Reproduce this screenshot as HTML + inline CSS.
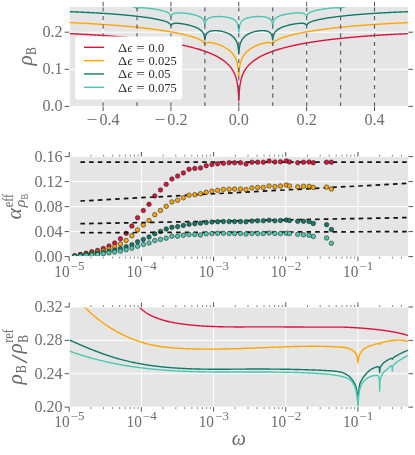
<!DOCTYPE html>
<html><head><meta charset="utf-8"><title>plot</title>
<style>html,body{margin:0;padding:0;background:#fff;}svg{display:block;}</style></head>
<body>
<svg width="415" height="455" viewBox="0 0 415 455" font-family='"Liberation Serif", serif'>
<rect width="415" height="455" fill="#fff"/>
<defs>
<clipPath id="c0"><rect x="69.2" y="6.4" width="339.2" height="100.0"/></clipPath>
<clipPath id="c1"><rect x="69.2" y="156.6" width="339.2" height="100.00000000000003"/></clipPath>
<clipPath id="c2"><rect x="69.2" y="307.0" width="339.2" height="100.10000000000002"/></clipPath>
</defs>
<rect x="69.2" y="6.4" width="339.2" height="100" fill="#E5E5E5"/>
<line x1="103.1" x2="103.1" y1="6.4" y2="106.4" stroke="#fff" stroke-width="1"/>
<line x1="170.95" x2="170.95" y1="6.4" y2="106.4" stroke="#fff" stroke-width="1"/>
<line x1="238.8" x2="238.8" y1="6.4" y2="106.4" stroke="#fff" stroke-width="1"/>
<line x1="306.65" x2="306.65" y1="6.4" y2="106.4" stroke="#fff" stroke-width="1"/>
<line x1="374.5" x2="374.5" y1="6.4" y2="106.4" stroke="#fff" stroke-width="1"/>
<line x1="69.2" x2="408.4" y1="69.3" y2="69.3" stroke="#fff" stroke-width="1"/>
<line x1="69.2" x2="408.4" y1="32.2" y2="32.2" stroke="#fff" stroke-width="1"/>
<g clip-path="url(#c0)">
<path d="M69.20,33.64 L70.01,33.67 L70.82,33.71 L71.63,33.74 L72.44,33.78 L73.25,33.82 L74.06,33.86 L74.87,33.89 L75.68,33.93 L76.49,33.97 L77.30,34.01 L78.11,34.05 L78.91,34.09 L79.72,34.13 L80.53,34.17 L81.34,34.22 L82.15,34.26 L82.96,34.30 L83.77,34.34 L84.58,34.39 L85.39,34.43 L86.20,34.47 L87.01,34.52 L87.82,34.56 L88.63,34.61 L89.44,34.66 L90.25,34.70 L91.06,34.75 L91.87,34.80 L92.68,34.85 L93.49,34.89 L94.30,34.94 L95.11,34.99 L95.92,35.04 L96.72,35.09 L97.53,35.14 L98.34,35.20 L99.15,35.25 L99.96,35.30 L100.77,35.35 L101.58,35.41 L102.39,35.46 L103.20,35.52 L104.01,35.57 L104.82,35.63 L105.63,35.68 L106.44,35.74 L107.25,35.80 L108.06,35.86 L108.87,35.92 L109.68,35.98 L110.49,36.04 L111.30,36.10 L112.11,36.16 L112.92,36.22 L113.73,36.28 L114.53,36.35 L115.34,36.41 L116.15,36.48 L116.96,36.54 L117.77,36.61 L118.58,36.67 L119.39,36.74 L120.20,36.81 L121.01,36.88 L121.82,36.95 L122.63,37.02 L123.44,37.09 L124.25,37.16 L125.06,37.23 L125.87,37.30 L126.68,37.38 L127.49,37.45 L128.30,37.53 L129.11,37.61 L129.92,37.68 L130.73,37.76 L131.54,37.84 L132.34,37.92 L133.15,38.00 L133.96,38.08 L134.77,38.16 L135.52,38.24 L135.57,38.25 L135.58,38.25 L135.62,38.25 L135.67,38.26 L135.72,38.26 L135.77,38.27 L135.82,38.27 L135.87,38.28 L135.92,38.28 L135.97,38.29 L136.02,38.29 L136.07,38.30 L136.12,38.30 L136.17,38.31 L136.22,38.31 L136.27,38.32 L136.32,38.32 L136.37,38.33 L136.39,38.33 L136.42,38.33 L136.47,38.34 L136.52,38.34 L136.57,38.35 L136.62,38.35 L136.67,38.36 L136.72,38.36 L136.77,38.37 L136.82,38.38 L136.87,38.38 L136.92,38.39 L136.97,38.39 L137.02,38.40 L137.07,38.40 L137.12,38.41 L137.17,38.41 L137.20,38.41 L137.22,38.42 L137.27,38.42 L137.32,38.43 L137.37,38.43 L137.42,38.44 L137.47,38.44 L137.52,38.45 L137.57,38.45 L137.62,38.46 L137.67,38.46 L137.72,38.47 L137.77,38.48 L137.82,38.48 L137.87,38.49 L137.92,38.49 L137.97,38.50 L138.01,38.50 L138.02,38.50 L138.07,38.51 L138.12,38.51 L138.17,38.52 L138.22,38.52 L138.27,38.53 L138.32,38.53 L138.37,38.54 L138.42,38.54 L138.47,38.55 L138.52,38.56 L138.82,38.59 L139.63,38.68 L140.44,38.76 L141.25,38.85 L142.06,38.94 L142.87,39.04 L143.68,39.13 L144.49,39.22 L145.30,39.32 L146.11,39.41 L146.92,39.51 L147.73,39.61 L148.54,39.71 L149.35,39.81 L150.15,39.91 L150.96,40.01 L151.77,40.12 L152.58,40.22 L153.39,40.33 L154.20,40.43 L155.01,40.54 L155.82,40.65 L156.63,40.76 L157.44,40.88 L158.25,40.99 L159.06,41.11 L159.87,41.22 L160.68,41.34 L161.49,41.46 L162.30,41.58 L163.11,41.71 L163.92,41.83 L164.73,41.96 L165.54,42.08 L166.35,42.21 L167.16,42.34 L167.96,42.48 L168.77,42.61 L169.45,42.73 L169.50,42.73 L169.55,42.74 L169.58,42.75 L169.60,42.75 L169.65,42.76 L169.70,42.77 L169.75,42.78 L169.80,42.78 L169.85,42.79 L169.90,42.80 L169.95,42.81 L170.00,42.82 L170.05,42.83 L170.10,42.84 L170.15,42.84 L170.20,42.85 L170.25,42.86 L170.30,42.87 L170.35,42.88 L170.39,42.89 L170.40,42.89 L170.45,42.90 L170.50,42.90 L170.55,42.91 L170.60,42.92 L170.65,42.93 L170.70,42.94 L170.75,42.95 L170.80,42.96 L170.85,42.96 L170.90,42.97 L170.95,42.98 L171.00,42.99 L171.05,43.00 L171.10,43.01 L171.15,43.02 L171.20,43.02 L171.20,43.03 L171.25,43.03 L171.30,43.04 L171.35,43.05 L171.40,43.06 L171.45,43.07 L171.50,43.08 L171.55,43.09 L171.60,43.09 L171.65,43.10 L171.70,43.11 L171.75,43.12 L171.80,43.13 L171.85,43.14 L171.90,43.15 L171.95,43.16 L172.00,43.16 L172.01,43.17 L172.05,43.17 L172.10,43.18 L172.15,43.19 L172.20,43.20 L172.25,43.21 L172.30,43.22 L172.35,43.23 L172.40,43.24 L172.45,43.24 L172.82,43.31 L173.63,43.46 L174.44,43.60 L175.25,43.75 L176.06,43.91 L176.87,44.06 L177.68,44.22 L178.49,44.37 L179.30,44.53 L180.11,44.70 L180.92,44.86 L181.73,45.03 L182.54,45.20 L183.35,45.38 L184.16,45.55 L184.97,45.73 L185.77,45.91 L186.58,46.10 L187.39,46.28 L188.20,46.47 L189.01,46.67 L189.82,46.86 L190.63,47.06 L191.44,47.27 L192.25,47.47 L193.06,47.69 L193.87,47.90 L194.68,48.12 L195.49,48.34 L196.30,48.57 L197.11,48.80 L197.92,49.04 L198.73,49.28 L199.54,49.52 L200.35,49.77 L201.16,50.03 L201.97,50.29 L202.78,50.55 L203.38,50.75 L203.43,50.77 L203.47,50.79 L203.53,50.80 L203.57,50.82 L203.58,50.82 L203.62,50.84 L203.68,50.86 L203.72,50.87 L203.78,50.89 L203.82,50.91 L203.88,50.92 L203.93,50.94 L203.97,50.96 L204.03,50.97 L204.07,50.99 L204.12,51.01 L204.18,51.03 L204.22,51.04 L204.28,51.06 L204.32,51.08 L204.38,51.10 L204.39,51.10 L204.43,51.11 L204.47,51.13 L204.53,51.15 L204.57,51.17 L204.62,51.18 L204.68,51.20 L204.72,51.22 L204.78,51.24 L204.82,51.25 L204.88,51.27 L204.93,51.29 L204.97,51.31 L205.03,51.32 L205.07,51.34 L205.12,51.36 L205.18,51.38 L205.20,51.39 L205.22,51.39 L205.28,51.41 L205.32,51.43 L205.38,51.45 L205.43,51.47 L205.47,51.48 L205.53,51.50 L205.57,51.52 L205.62,51.54 L205.68,51.56 L205.72,51.57 L205.78,51.59 L205.82,51.61 L205.88,51.63 L205.93,51.65 L205.97,51.66 L206.01,51.68 L206.03,51.68 L206.07,51.70 L206.12,51.72 L206.18,51.74 L206.22,51.75 L206.28,51.77 L206.32,51.79 L206.38,51.81 L206.82,51.98 L207.63,52.28 L208.44,52.59 L209.25,52.91 L210.06,53.24 L210.87,53.58 L211.68,53.93 L212.49,54.28 L213.30,54.65 L214.11,55.03 L214.92,55.42 L215.73,55.82 L216.54,56.23 L217.35,56.66 L218.16,57.11 L218.97,57.57 L219.78,58.04 L220.59,58.54 L221.39,59.05 L222.20,59.59 L223.01,60.15 L223.82,60.74 L224.63,61.36 L225.44,62.01 L226.25,62.69 L227.06,63.42 L227.87,64.19 L228.68,65.01 L229.49,65.90 L230.30,66.85 L231.11,67.89 L231.92,69.03 L232.73,70.29 L233.54,71.71 L234.35,73.34 L235.16,75.26 L235.97,77.60 L236.78,80.64 L237.30,83.25 L237.35,83.54 L237.40,83.84 L237.45,84.14 L237.50,84.46 L237.55,84.79 L237.59,85.04 L237.60,85.14 L237.65,85.49 L237.70,85.86 L237.75,86.24 L237.80,86.64 L237.85,87.06 L237.90,87.50 L237.95,87.96 L238.00,88.44 L238.05,88.95 L238.10,89.48 L238.15,90.05 L238.20,90.66 L238.25,91.31 L238.30,92.00 L238.35,92.75 L238.40,93.48 L238.40,93.56 L238.45,94.44 L238.50,95.39 L238.55,96.42 L238.60,97.52 L238.65,98.65 L238.70,99.72 L238.75,100.54 L238.80,100.85 L238.85,100.54 L238.90,99.72 L238.95,98.65 L239.00,97.52 L239.05,96.42 L239.10,95.39 L239.15,94.44 L239.20,93.56 L239.20,93.48 L239.25,92.75 L239.30,92.00 L239.35,91.31 L239.40,90.66 L239.45,90.05 L239.50,89.48 L239.55,88.95 L239.60,88.44 L239.65,87.96 L239.70,87.50 L239.75,87.06 L239.80,86.64 L239.85,86.24 L239.90,85.86 L239.95,85.49 L240.00,85.14 L240.01,85.04 L240.05,84.79 L240.10,84.46 L240.15,84.14 L240.20,83.84 L240.25,83.54 L240.30,83.25 L240.82,80.64 L241.63,77.60 L242.44,75.26 L243.25,73.34 L244.06,71.71 L244.87,70.29 L245.68,69.03 L246.49,67.89 L247.30,66.85 L248.11,65.90 L248.92,65.01 L249.73,64.19 L250.54,63.42 L251.35,62.69 L252.16,62.01 L252.97,61.36 L253.78,60.74 L254.59,60.15 L255.40,59.59 L256.21,59.05 L257.01,58.54 L257.82,58.04 L258.63,57.57 L259.44,57.11 L260.25,56.66 L261.06,56.23 L261.87,55.82 L262.68,55.42 L263.49,55.03 L264.30,54.65 L265.11,54.28 L265.92,53.93 L266.73,53.58 L267.54,53.24 L268.35,52.91 L269.16,52.59 L269.97,52.28 L270.78,51.98 L271.23,51.81 L271.28,51.79 L271.33,51.77 L271.38,51.75 L271.43,51.74 L271.48,51.72 L271.53,51.70 L271.58,51.68 L271.59,51.68 L271.62,51.66 L271.68,51.65 L271.73,51.63 L271.78,51.61 L271.83,51.59 L271.88,51.57 L271.93,51.56 L271.98,51.54 L272.03,51.52 L272.08,51.50 L272.12,51.48 L272.18,51.47 L272.23,51.45 L272.28,51.43 L272.33,51.41 L272.38,51.39 L272.40,51.39 L272.43,51.38 L272.48,51.36 L272.53,51.34 L272.58,51.32 L272.62,51.31 L272.68,51.29 L272.73,51.27 L272.78,51.25 L272.83,51.24 L272.88,51.22 L272.93,51.20 L272.98,51.18 L273.03,51.17 L273.08,51.15 L273.12,51.13 L273.18,51.11 L273.21,51.10 L273.23,51.10 L273.28,51.08 L273.33,51.06 L273.38,51.04 L273.43,51.03 L273.48,51.01 L273.53,50.99 L273.58,50.97 L273.62,50.96 L273.68,50.94 L273.73,50.92 L273.78,50.91 L273.83,50.89 L273.88,50.87 L273.93,50.86 L273.98,50.84 L274.02,50.82 L274.03,50.82 L274.08,50.80 L274.12,50.79 L274.18,50.77 L274.23,50.75 L274.82,50.55 L275.63,50.29 L276.44,50.03 L277.25,49.77 L278.06,49.52 L278.87,49.28 L279.68,49.04 L280.49,48.80 L281.30,48.57 L282.11,48.34 L282.92,48.12 L283.73,47.90 L284.54,47.69 L285.35,47.47 L286.16,47.27 L286.97,47.06 L287.78,46.86 L288.59,46.67 L289.40,46.47 L290.21,46.28 L291.02,46.10 L291.83,45.91 L292.63,45.73 L293.44,45.55 L294.25,45.38 L295.06,45.20 L295.87,45.03 L296.68,44.86 L297.49,44.70 L298.30,44.53 L299.11,44.37 L299.92,44.22 L300.73,44.06 L301.54,43.91 L302.35,43.75 L303.16,43.60 L303.97,43.46 L304.78,43.31 L305.15,43.24 L305.20,43.24 L305.25,43.23 L305.30,43.22 L305.35,43.21 L305.40,43.20 L305.45,43.19 L305.50,43.18 L305.55,43.17 L305.59,43.17 L305.60,43.16 L305.65,43.16 L305.70,43.15 L305.75,43.14 L305.80,43.13 L305.85,43.12 L305.90,43.11 L305.95,43.10 L306.00,43.09 L306.05,43.09 L306.10,43.08 L306.15,43.07 L306.20,43.06 L306.25,43.05 L306.30,43.04 L306.35,43.03 L306.40,43.03 L306.40,43.02 L306.45,43.02 L306.50,43.01 L306.55,43.00 L306.60,42.99 L306.65,42.98 L306.70,42.97 L306.75,42.96 L306.80,42.96 L306.85,42.95 L306.90,42.94 L306.95,42.93 L307.00,42.92 L307.05,42.91 L307.10,42.90 L307.15,42.90 L307.20,42.89 L307.21,42.89 L307.25,42.88 L307.30,42.87 L307.35,42.86 L307.40,42.85 L307.45,42.84 L307.50,42.84 L307.55,42.83 L307.60,42.82 L307.65,42.81 L307.70,42.80 L307.75,42.79 L307.80,42.78 L307.85,42.78 L307.90,42.77 L307.95,42.76 L308.00,42.75 L308.02,42.75 L308.05,42.74 L308.10,42.73 L308.15,42.73 L308.83,42.61 L309.64,42.48 L310.44,42.34 L311.25,42.21 L312.06,42.08 L312.87,41.96 L313.68,41.83 L314.49,41.71 L315.30,41.58 L316.11,41.46 L316.92,41.34 L317.73,41.22 L318.54,41.11 L319.35,40.99 L320.16,40.88 L320.97,40.76 L321.78,40.65 L322.59,40.54 L323.40,40.43 L324.21,40.33 L325.02,40.22 L325.83,40.12 L326.64,40.01 L327.45,39.91 L328.25,39.81 L329.06,39.71 L329.87,39.61 L330.68,39.51 L331.49,39.41 L332.30,39.32 L333.11,39.22 L333.92,39.13 L334.73,39.04 L335.54,38.94 L336.35,38.85 L337.16,38.76 L337.97,38.68 L338.78,38.59 L339.08,38.56 L339.13,38.55 L339.18,38.54 L339.23,38.54 L339.28,38.53 L339.33,38.53 L339.38,38.52 L339.43,38.52 L339.48,38.51 L339.53,38.51 L339.58,38.50 L339.59,38.50 L339.63,38.50 L339.68,38.49 L339.73,38.49 L339.78,38.48 L339.83,38.48 L339.88,38.47 L339.93,38.46 L339.98,38.46 L340.03,38.45 L340.08,38.45 L340.13,38.44 L340.18,38.44 L340.23,38.43 L340.28,38.43 L340.33,38.42 L340.38,38.42 L340.40,38.41 L340.43,38.41 L340.48,38.41 L340.53,38.40 L340.58,38.40 L340.63,38.39 L340.68,38.39 L340.73,38.38 L340.78,38.38 L340.83,38.37 L340.88,38.36 L340.93,38.36 L340.98,38.35 L341.03,38.35 L341.08,38.34 L341.13,38.34 L341.18,38.33 L341.21,38.33 L341.23,38.33 L341.28,38.32 L341.33,38.32 L341.38,38.31 L341.43,38.31 L341.48,38.30 L341.53,38.30 L341.58,38.29 L341.63,38.29 L341.68,38.28 L341.73,38.28 L341.78,38.27 L341.83,38.27 L341.88,38.26 L341.93,38.26 L341.98,38.25 L342.02,38.25 L342.03,38.25 L342.08,38.24 L342.83,38.16 L343.64,38.08 L344.45,38.00 L345.26,37.92 L346.06,37.84 L346.87,37.76 L347.68,37.68 L348.49,37.61 L349.30,37.53 L350.11,37.45 L350.92,37.38 L351.73,37.30 L352.54,37.23 L353.35,37.16 L354.16,37.09 L354.97,37.02 L355.78,36.95 L356.59,36.88 L357.40,36.81 L358.21,36.74 L359.02,36.67 L359.83,36.61 L360.64,36.54 L361.45,36.48 L362.26,36.41 L363.07,36.35 L363.87,36.28 L364.68,36.22 L365.49,36.16 L366.30,36.10 L367.11,36.04 L367.92,35.98 L368.73,35.92 L369.54,35.86 L370.35,35.80 L371.16,35.74 L371.97,35.68 L372.78,35.63 L373.59,35.57 L374.40,35.52 L375.21,35.46 L376.02,35.41 L376.83,35.35 L377.64,35.30 L378.45,35.25 L379.26,35.20 L380.07,35.14 L380.88,35.09 L381.68,35.04 L382.49,34.99 L383.30,34.94 L384.11,34.89 L384.92,34.85 L385.73,34.80 L386.54,34.75 L387.35,34.70 L388.16,34.66 L388.97,34.61 L389.78,34.56 L390.59,34.52 L391.40,34.47 L392.21,34.43 L393.02,34.39 L393.83,34.34 L394.64,34.30 L395.45,34.26 L396.26,34.22 L397.07,34.17 L397.88,34.13 L398.69,34.09 L399.49,34.05 L400.30,34.01 L401.11,33.97 L401.92,33.93 L402.73,33.89 L403.54,33.86 L404.35,33.82 L405.16,33.78 L405.97,33.74 L406.78,33.71 L407.59,33.67 L408.40,33.64" fill="none" stroke="#DC143C" stroke-width="1.4" stroke-linejoin="round"/>
<path d="M69.20,22.59 L70.01,22.63 L70.82,22.66 L71.63,22.70 L72.44,22.74 L73.25,22.77 L74.06,22.81 L74.87,22.85 L75.68,22.89 L76.49,22.93 L77.30,22.97 L78.11,23.00 L78.91,23.04 L79.72,23.09 L80.53,23.13 L81.34,23.17 L82.15,23.21 L82.96,23.25 L83.77,23.29 L84.58,23.34 L85.39,23.38 L86.20,23.42 L87.01,23.47 L87.82,23.51 L88.63,23.56 L89.44,23.60 L90.25,23.65 L91.06,23.69 L91.87,23.74 L92.68,23.79 L93.49,23.84 L94.30,23.89 L95.11,23.93 L95.92,23.98 L96.72,24.03 L97.53,24.08 L98.34,24.13 L99.15,24.19 L99.96,24.24 L100.77,24.29 L101.58,24.34 L102.39,24.40 L103.20,24.45 L104.01,24.50 L104.82,24.56 L105.63,24.62 L106.44,24.67 L107.25,24.73 L108.06,24.79 L108.87,24.84 L109.68,24.90 L110.49,24.96 L111.30,25.02 L112.11,25.08 L112.92,25.14 L113.73,25.20 L114.53,25.27 L115.34,25.33 L116.15,25.39 L116.96,25.46 L117.77,25.52 L118.58,25.59 L119.39,25.65 L120.20,25.72 L121.01,25.79 L121.82,25.85 L122.63,25.92 L123.44,25.99 L124.25,26.06 L125.06,26.13 L125.87,26.21 L126.68,26.28 L127.49,26.35 L128.30,26.43 L129.11,26.50 L129.92,26.58 L130.73,26.65 L131.54,26.73 L132.34,26.81 L133.15,26.89 L133.96,26.97 L134.77,27.05 L135.52,27.13 L135.57,27.13 L135.58,27.13 L135.62,27.14 L135.67,27.14 L135.72,27.15 L135.77,27.15 L135.82,27.16 L135.87,27.16 L135.92,27.17 L135.97,27.17 L136.02,27.18 L136.07,27.18 L136.12,27.19 L136.17,27.19 L136.22,27.20 L136.27,27.20 L136.32,27.21 L136.37,27.21 L136.39,27.22 L136.42,27.22 L136.47,27.22 L136.52,27.23 L136.57,27.23 L136.62,27.24 L136.67,27.24 L136.72,27.25 L136.77,27.25 L136.82,27.26 L136.87,27.27 L136.92,27.27 L136.97,27.28 L137.02,27.28 L137.07,27.29 L137.12,27.29 L137.17,27.30 L137.20,27.30 L137.22,27.30 L137.27,27.31 L137.32,27.31 L137.37,27.32 L137.42,27.32 L137.47,27.33 L137.52,27.33 L137.57,27.34 L137.62,27.34 L137.67,27.35 L137.72,27.35 L137.77,27.36 L137.82,27.36 L137.87,27.37 L137.92,27.37 L137.97,27.38 L138.01,27.38 L138.02,27.39 L138.07,27.39 L138.12,27.40 L138.17,27.40 L138.22,27.41 L138.27,27.41 L138.32,27.42 L138.37,27.42 L138.42,27.43 L138.47,27.43 L138.52,27.44 L138.82,27.47 L139.63,27.56 L140.44,27.64 L141.25,27.73 L142.06,27.82 L142.87,27.91 L143.68,28.00 L144.49,28.10 L145.30,28.19 L146.11,28.29 L146.92,28.38 L147.73,28.48 L148.54,28.58 L149.35,28.68 L150.15,28.78 L150.96,28.88 L151.77,28.98 L152.58,29.09 L153.39,29.19 L154.20,29.30 L155.01,29.41 L155.82,29.52 L156.63,29.63 L157.44,29.74 L158.25,29.86 L159.06,29.97 L159.87,30.09 L160.68,30.21 L161.49,30.33 L162.30,30.45 L163.11,30.58 L163.92,30.70 L164.73,30.83 L165.54,30.96 L166.35,31.09 L167.16,31.22 L167.96,31.36 L168.77,31.50 L169.45,31.61 L169.50,31.62 L169.55,31.63 L169.58,31.64 L169.60,31.64 L169.65,31.65 L169.70,31.66 L169.75,31.66 L169.80,31.67 L169.85,31.68 L169.90,31.69 L169.95,31.70 L170.00,31.71 L170.05,31.72 L170.10,31.73 L170.15,31.73 L170.20,31.74 L170.25,31.75 L170.30,31.76 L170.35,31.77 L170.39,31.78 L170.40,31.78 L170.45,31.79 L170.50,31.80 L170.55,31.80 L170.60,31.81 L170.65,31.82 L170.70,31.83 L170.75,31.84 L170.80,31.85 L170.85,31.86 L170.90,31.87 L170.95,31.88 L171.00,31.88 L171.05,31.89 L171.10,31.90 L171.15,31.91 L171.20,31.92 L171.20,31.92 L171.25,31.93 L171.30,31.94 L171.35,31.95 L171.40,31.96 L171.45,31.96 L171.50,31.97 L171.55,31.98 L171.60,31.99 L171.65,32.00 L171.70,32.01 L171.75,32.02 L171.80,32.03 L171.85,32.04 L171.90,32.05 L171.95,32.05 L172.00,32.06 L172.01,32.07 L172.05,32.07 L172.10,32.08 L172.15,32.09 L172.20,32.10 L172.25,32.11 L172.30,32.12 L172.35,32.13 L172.40,32.14 L172.45,32.15 L172.82,32.21 L173.63,32.36 L174.44,32.52 L175.25,32.67 L176.06,32.83 L176.87,32.99 L177.68,33.16 L178.49,33.32 L179.30,33.49 L180.11,33.67 L180.92,33.84 L181.73,34.02 L182.54,34.21 L183.35,34.39 L184.16,34.58 L184.97,34.78 L185.77,34.98 L186.58,35.18 L187.39,35.39 L188.20,35.61 L189.01,35.83 L189.82,36.05 L190.63,36.29 L191.44,36.52 L192.25,36.77 L193.06,37.03 L193.87,37.29 L194.68,37.56 L195.49,37.85 L196.30,38.15 L197.11,38.46 L197.92,38.79 L198.73,39.14 L199.54,39.52 L200.35,39.93 L201.16,40.38 L201.97,40.90 L202.78,41.53 L203.38,42.11 L203.43,42.17 L203.47,42.23 L203.53,42.29 L203.57,42.35 L203.58,42.36 L203.62,42.41 L203.68,42.48 L203.72,42.54 L203.78,42.61 L203.82,42.68 L203.88,42.76 L203.93,42.83 L203.97,42.91 L204.03,43.00 L204.07,43.09 L204.12,43.18 L204.18,43.27 L204.22,43.38 L204.28,43.49 L204.32,43.60 L204.38,43.72 L204.39,43.77 L204.43,43.86 L204.47,44.00 L204.53,44.15 L204.57,44.32 L204.62,44.50 L204.68,44.70 L204.72,44.90 L204.78,45.09 L204.82,45.24 L204.88,45.31 L204.93,45.27 L204.97,45.15 L205.03,44.98 L205.07,44.81 L205.12,44.64 L205.18,44.49 L205.20,44.41 L205.22,44.35 L205.28,44.23 L205.32,44.11 L205.38,44.01 L205.43,43.91 L205.47,43.83 L205.53,43.75 L205.57,43.67 L205.62,43.60 L205.68,43.54 L205.72,43.48 L205.78,43.42 L205.82,43.37 L205.88,43.32 L205.93,43.28 L205.97,43.23 L206.01,43.20 L206.03,43.19 L206.07,43.16 L206.12,43.12 L206.18,43.09 L206.22,43.05 L206.28,43.02 L206.32,42.99 L206.38,42.97 L206.82,42.77 L207.63,42.58 L208.44,42.50 L209.25,42.50 L210.06,42.55 L210.87,42.64 L211.68,42.75 L212.49,42.90 L213.30,43.06 L214.11,43.25 L214.92,43.45 L215.73,43.67 L216.54,43.91 L217.35,44.17 L218.16,44.44 L218.97,44.73 L219.78,45.04 L220.59,45.37 L221.39,45.72 L222.20,46.08 L223.01,46.47 L223.82,46.88 L224.63,47.31 L225.44,47.77 L226.25,48.26 L227.06,48.78 L227.87,49.34 L228.68,49.94 L229.49,50.59 L230.30,51.29 L231.11,52.06 L231.92,52.90 L232.73,53.84 L233.54,54.90 L234.35,56.12 L235.16,57.55 L235.97,59.30 L236.78,61.57 L237.30,63.52 L237.35,63.74 L237.40,63.96 L237.45,64.19 L237.50,64.43 L237.55,64.68 L237.59,64.86 L237.60,64.93 L237.65,65.20 L237.70,65.47 L237.75,65.76 L237.80,66.06 L237.85,66.37 L237.90,66.69 L237.95,67.03 L238.00,67.39 L238.05,67.77 L238.10,68.17 L238.15,68.59 L238.20,69.04 L238.25,69.53 L238.30,70.04 L238.35,70.60 L238.40,71.14 L238.40,71.20 L238.45,71.85 L238.50,72.55 L238.55,73.32 L238.60,74.13 L238.65,74.97 L238.70,75.76 L238.75,76.36 L238.80,76.59 L238.85,76.36 L238.90,75.76 L238.95,74.97 L239.00,74.13 L239.05,73.32 L239.10,72.55 L239.15,71.85 L239.20,71.20 L239.20,71.14 L239.25,70.60 L239.30,70.04 L239.35,69.53 L239.40,69.04 L239.45,68.59 L239.50,68.17 L239.55,67.77 L239.60,67.39 L239.65,67.03 L239.70,66.69 L239.75,66.37 L239.80,66.06 L239.85,65.76 L239.90,65.47 L239.95,65.20 L240.00,64.93 L240.01,64.86 L240.05,64.68 L240.10,64.43 L240.15,64.19 L240.20,63.96 L240.25,63.74 L240.30,63.52 L240.82,61.57 L241.63,59.30 L242.44,57.55 L243.25,56.12 L244.06,54.90 L244.87,53.84 L245.68,52.90 L246.49,52.06 L247.30,51.29 L248.11,50.59 L248.92,49.94 L249.73,49.34 L250.54,48.78 L251.35,48.26 L252.16,47.77 L252.97,47.31 L253.78,46.88 L254.59,46.47 L255.40,46.08 L256.21,45.72 L257.01,45.37 L257.82,45.04 L258.63,44.73 L259.44,44.44 L260.25,44.17 L261.06,43.91 L261.87,43.67 L262.68,43.45 L263.49,43.25 L264.30,43.06 L265.11,42.90 L265.92,42.75 L266.73,42.64 L267.54,42.55 L268.35,42.50 L269.16,42.50 L269.97,42.58 L270.78,42.77 L271.23,42.97 L271.28,42.99 L271.33,43.02 L271.38,43.05 L271.43,43.09 L271.48,43.12 L271.53,43.16 L271.58,43.19 L271.59,43.20 L271.62,43.23 L271.68,43.28 L271.73,43.32 L271.78,43.37 L271.83,43.42 L271.88,43.48 L271.93,43.54 L271.98,43.60 L272.03,43.67 L272.08,43.75 L272.12,43.83 L272.18,43.91 L272.23,44.01 L272.28,44.11 L272.33,44.23 L272.38,44.35 L272.40,44.41 L272.43,44.49 L272.48,44.64 L272.53,44.81 L272.58,44.98 L272.62,45.15 L272.68,45.27 L272.73,45.31 L272.78,45.24 L272.83,45.09 L272.88,44.90 L272.93,44.70 L272.98,44.50 L273.03,44.32 L273.08,44.15 L273.12,44.00 L273.18,43.86 L273.21,43.77 L273.23,43.72 L273.28,43.60 L273.33,43.49 L273.38,43.38 L273.43,43.27 L273.48,43.18 L273.53,43.09 L273.58,43.00 L273.62,42.91 L273.68,42.83 L273.73,42.76 L273.78,42.68 L273.83,42.61 L273.88,42.54 L273.93,42.48 L273.98,42.41 L274.02,42.36 L274.03,42.35 L274.08,42.29 L274.12,42.23 L274.18,42.17 L274.23,42.11 L274.82,41.53 L275.63,40.90 L276.44,40.38 L277.25,39.93 L278.06,39.52 L278.87,39.14 L279.68,38.79 L280.49,38.46 L281.30,38.15 L282.11,37.85 L282.92,37.56 L283.73,37.29 L284.54,37.03 L285.35,36.77 L286.16,36.52 L286.97,36.29 L287.78,36.05 L288.59,35.83 L289.40,35.61 L290.21,35.39 L291.02,35.18 L291.83,34.98 L292.63,34.78 L293.44,34.58 L294.25,34.39 L295.06,34.21 L295.87,34.02 L296.68,33.84 L297.49,33.67 L298.30,33.49 L299.11,33.32 L299.92,33.16 L300.73,32.99 L301.54,32.83 L302.35,32.67 L303.16,32.52 L303.97,32.36 L304.78,32.21 L305.15,32.15 L305.20,32.14 L305.25,32.13 L305.30,32.12 L305.35,32.11 L305.40,32.10 L305.45,32.09 L305.50,32.08 L305.55,32.07 L305.59,32.07 L305.60,32.06 L305.65,32.05 L305.70,32.05 L305.75,32.04 L305.80,32.03 L305.85,32.02 L305.90,32.01 L305.95,32.00 L306.00,31.99 L306.05,31.98 L306.10,31.97 L306.15,31.96 L306.20,31.96 L306.25,31.95 L306.30,31.94 L306.35,31.93 L306.40,31.92 L306.40,31.92 L306.45,31.91 L306.50,31.90 L306.55,31.89 L306.60,31.88 L306.65,31.88 L306.70,31.87 L306.75,31.86 L306.80,31.85 L306.85,31.84 L306.90,31.83 L306.95,31.82 L307.00,31.81 L307.05,31.80 L307.10,31.80 L307.15,31.79 L307.20,31.78 L307.21,31.78 L307.25,31.77 L307.30,31.76 L307.35,31.75 L307.40,31.74 L307.45,31.73 L307.50,31.73 L307.55,31.72 L307.60,31.71 L307.65,31.70 L307.70,31.69 L307.75,31.68 L307.80,31.67 L307.85,31.66 L307.90,31.66 L307.95,31.65 L308.00,31.64 L308.02,31.64 L308.05,31.63 L308.10,31.62 L308.15,31.61 L308.83,31.50 L309.64,31.36 L310.44,31.22 L311.25,31.09 L312.06,30.96 L312.87,30.83 L313.68,30.70 L314.49,30.58 L315.30,30.45 L316.11,30.33 L316.92,30.21 L317.73,30.09 L318.54,29.97 L319.35,29.86 L320.16,29.74 L320.97,29.63 L321.78,29.52 L322.59,29.41 L323.40,29.30 L324.21,29.19 L325.02,29.09 L325.83,28.98 L326.64,28.88 L327.45,28.78 L328.25,28.68 L329.06,28.58 L329.87,28.48 L330.68,28.38 L331.49,28.29 L332.30,28.19 L333.11,28.10 L333.92,28.00 L334.73,27.91 L335.54,27.82 L336.35,27.73 L337.16,27.64 L337.97,27.56 L338.78,27.47 L339.08,27.44 L339.13,27.43 L339.18,27.43 L339.23,27.42 L339.28,27.42 L339.33,27.41 L339.38,27.41 L339.43,27.40 L339.48,27.40 L339.53,27.39 L339.58,27.39 L339.59,27.38 L339.63,27.38 L339.68,27.37 L339.73,27.37 L339.78,27.36 L339.83,27.36 L339.88,27.35 L339.93,27.35 L339.98,27.34 L340.03,27.34 L340.08,27.33 L340.13,27.33 L340.18,27.32 L340.23,27.32 L340.28,27.31 L340.33,27.31 L340.38,27.30 L340.40,27.30 L340.43,27.30 L340.48,27.29 L340.53,27.29 L340.58,27.28 L340.63,27.28 L340.68,27.27 L340.73,27.27 L340.78,27.26 L340.83,27.25 L340.88,27.25 L340.93,27.24 L340.98,27.24 L341.03,27.23 L341.08,27.23 L341.13,27.22 L341.18,27.22 L341.21,27.22 L341.23,27.21 L341.28,27.21 L341.33,27.20 L341.38,27.20 L341.43,27.19 L341.48,27.19 L341.53,27.18 L341.58,27.18 L341.63,27.17 L341.68,27.17 L341.73,27.16 L341.78,27.16 L341.83,27.15 L341.88,27.15 L341.93,27.14 L341.98,27.14 L342.02,27.13 L342.03,27.13 L342.08,27.13 L342.83,27.05 L343.64,26.97 L344.45,26.89 L345.26,26.81 L346.06,26.73 L346.87,26.65 L347.68,26.58 L348.49,26.50 L349.30,26.43 L350.11,26.35 L350.92,26.28 L351.73,26.21 L352.54,26.13 L353.35,26.06 L354.16,25.99 L354.97,25.92 L355.78,25.85 L356.59,25.79 L357.40,25.72 L358.21,25.65 L359.02,25.59 L359.83,25.52 L360.64,25.46 L361.45,25.39 L362.26,25.33 L363.07,25.27 L363.87,25.20 L364.68,25.14 L365.49,25.08 L366.30,25.02 L367.11,24.96 L367.92,24.90 L368.73,24.84 L369.54,24.79 L370.35,24.73 L371.16,24.67 L371.97,24.62 L372.78,24.56 L373.59,24.50 L374.40,24.45 L375.21,24.40 L376.02,24.34 L376.83,24.29 L377.64,24.24 L378.45,24.19 L379.26,24.13 L380.07,24.08 L380.88,24.03 L381.68,23.98 L382.49,23.93 L383.30,23.89 L384.11,23.84 L384.92,23.79 L385.73,23.74 L386.54,23.69 L387.35,23.65 L388.16,23.60 L388.97,23.56 L389.78,23.51 L390.59,23.47 L391.40,23.42 L392.21,23.38 L393.02,23.34 L393.83,23.29 L394.64,23.25 L395.45,23.21 L396.26,23.17 L397.07,23.13 L397.88,23.09 L398.69,23.04 L399.49,23.00 L400.30,22.97 L401.11,22.93 L401.92,22.89 L402.73,22.85 L403.54,22.81 L404.35,22.77 L405.16,22.74 L405.97,22.70 L406.78,22.66 L407.59,22.63 L408.40,22.59" fill="none" stroke="#FFA500" stroke-width="1.4" stroke-linejoin="round"/>
<path d="M69.20,11.70 L70.01,11.73 L70.82,11.76 L71.63,11.79 L72.44,11.82 L73.25,11.85 L74.06,11.88 L74.87,11.92 L75.68,11.95 L76.49,11.98 L77.30,12.01 L78.11,12.05 L78.91,12.08 L79.72,12.12 L80.53,12.15 L81.34,12.19 L82.15,12.22 L82.96,12.26 L83.77,12.30 L84.58,12.34 L85.39,12.37 L86.20,12.41 L87.01,12.45 L87.82,12.49 L88.63,12.53 L89.44,12.57 L90.25,12.61 L91.06,12.66 L91.87,12.70 L92.68,12.74 L93.49,12.78 L94.30,12.83 L95.11,12.87 L95.92,12.92 L96.72,12.96 L97.53,13.01 L98.34,13.06 L99.15,13.11 L99.96,13.15 L100.77,13.20 L101.58,13.25 L102.39,13.30 L103.20,13.35 L104.01,13.41 L104.82,13.46 L105.63,13.51 L106.44,13.57 L107.25,13.62 L108.06,13.67 L108.87,13.73 L109.68,13.79 L110.49,13.85 L111.30,13.90 L112.11,13.96 L112.92,14.02 L113.73,14.08 L114.53,14.15 L115.34,14.21 L116.15,14.27 L116.96,14.34 L117.77,14.40 L118.58,14.47 L119.39,14.53 L120.20,14.60 L121.01,14.67 L121.82,14.74 L122.63,14.81 L123.44,14.88 L124.25,14.96 L125.06,15.03 L125.87,15.11 L126.68,15.18 L127.49,15.26 L128.30,15.34 L129.11,15.42 L129.92,15.50 L130.73,15.58 L131.54,15.67 L132.34,15.75 L133.15,15.84 L133.96,15.93 L134.77,16.02 L135.52,16.10 L135.57,16.10 L135.58,16.11 L135.62,16.11 L135.67,16.12 L135.72,16.12 L135.77,16.13 L135.82,16.13 L135.87,16.14 L135.92,16.14 L135.97,16.15 L136.02,16.16 L136.07,16.16 L136.12,16.17 L136.17,16.17 L136.22,16.18 L136.27,16.18 L136.32,16.19 L136.37,16.20 L136.39,16.20 L136.42,16.20 L136.47,16.21 L136.52,16.21 L136.57,16.22 L136.62,16.22 L136.67,16.23 L136.72,16.24 L136.77,16.24 L136.82,16.25 L136.87,16.25 L136.92,16.26 L136.97,16.27 L137.02,16.27 L137.07,16.28 L137.12,16.28 L137.17,16.29 L137.20,16.29 L137.22,16.29 L137.27,16.30 L137.32,16.31 L137.37,16.31 L137.42,16.32 L137.47,16.32 L137.52,16.33 L137.57,16.34 L137.62,16.34 L137.67,16.35 L137.72,16.35 L137.77,16.36 L137.82,16.37 L137.87,16.37 L137.92,16.38 L137.97,16.38 L138.01,16.39 L138.02,16.39 L138.07,16.39 L138.12,16.40 L138.17,16.41 L138.22,16.41 L138.27,16.42 L138.32,16.42 L138.37,16.43 L138.42,16.44 L138.47,16.44 L138.52,16.45 L138.82,16.48 L139.63,16.58 L140.44,16.68 L141.25,16.79 L142.06,16.89 L142.87,17.00 L143.68,17.10 L144.49,17.21 L145.30,17.33 L146.11,17.44 L146.92,17.56 L147.73,17.68 L148.54,17.80 L149.35,17.92 L150.15,18.05 L150.96,18.18 L151.77,18.31 L152.58,18.45 L153.39,18.59 L154.20,18.74 L155.01,18.88 L155.82,19.04 L156.63,19.19 L157.44,19.35 L158.25,19.52 L159.06,19.69 L159.87,19.87 L160.68,20.06 L161.49,20.26 L162.30,20.46 L163.11,20.68 L163.92,20.90 L164.73,21.15 L165.54,21.41 L166.35,21.70 L167.16,22.03 L167.96,22.40 L168.77,22.86 L169.45,23.35 L169.50,23.39 L169.55,23.43 L169.58,23.46 L169.60,23.48 L169.65,23.53 L169.70,23.57 L169.75,23.62 L169.80,23.68 L169.85,23.73 L169.90,23.78 L169.95,23.84 L170.00,23.90 L170.05,23.96 L170.10,24.03 L170.15,24.10 L170.20,24.17 L170.25,24.24 L170.30,24.32 L170.35,24.41 L170.39,24.49 L170.40,24.50 L170.45,24.60 L170.50,24.70 L170.55,24.81 L170.60,24.94 L170.65,25.07 L170.70,25.21 L170.75,25.37 L170.80,25.53 L170.85,25.68 L170.90,25.80 L170.95,25.85 L171.00,25.82 L171.05,25.72 L171.10,25.58 L171.15,25.44 L171.20,25.30 L171.20,25.29 L171.25,25.17 L171.30,25.06 L171.35,24.95 L171.40,24.86 L171.45,24.77 L171.50,24.69 L171.55,24.62 L171.60,24.55 L171.65,24.48 L171.70,24.43 L171.75,24.37 L171.80,24.32 L171.85,24.27 L171.90,24.23 L171.95,24.18 L172.00,24.14 L172.01,24.13 L172.05,24.11 L172.10,24.07 L172.15,24.04 L172.20,24.00 L172.25,23.97 L172.30,23.94 L172.35,23.92 L172.40,23.89 L172.45,23.86 L172.82,23.71 L173.63,23.48 L174.44,23.36 L175.25,23.30 L176.06,23.29 L176.87,23.30 L177.68,23.33 L178.49,23.38 L179.30,23.45 L180.11,23.53 L180.92,23.63 L181.73,23.73 L182.54,23.85 L183.35,23.98 L184.16,24.12 L184.97,24.27 L185.77,24.42 L186.58,24.59 L187.39,24.77 L188.20,24.96 L189.01,25.16 L189.82,25.37 L190.63,25.59 L191.44,25.83 L192.25,26.08 L193.06,26.35 L193.87,26.63 L194.68,26.94 L195.49,27.26 L196.30,27.61 L197.11,27.99 L197.92,28.40 L198.73,28.86 L199.54,29.36 L200.35,29.94 L201.16,30.61 L201.97,31.43 L202.78,32.47 L203.38,33.51 L203.43,33.61 L203.47,33.71 L203.53,33.82 L203.57,33.94 L203.58,33.96 L203.62,34.05 L203.68,34.18 L203.72,34.30 L203.78,34.43 L203.82,34.57 L203.88,34.71 L203.93,34.86 L203.97,35.01 L204.03,35.18 L204.07,35.35 L204.12,35.53 L204.18,35.73 L204.22,35.93 L204.28,36.15 L204.32,36.38 L204.38,36.64 L204.39,36.74 L204.43,36.91 L204.47,37.20 L204.53,37.52 L204.57,37.87 L204.62,38.25 L204.68,38.66 L204.72,39.08 L204.78,39.48 L204.82,39.80 L204.88,39.92 L204.93,39.81 L204.97,39.52 L205.03,39.13 L205.07,38.73 L205.12,38.34 L205.18,37.98 L205.20,37.78 L205.22,37.64 L205.28,37.34 L205.32,37.06 L205.38,36.81 L205.43,36.58 L205.47,36.36 L205.53,36.16 L205.57,35.97 L205.62,35.80 L205.68,35.63 L205.72,35.48 L205.78,35.33 L205.82,35.19 L205.88,35.06 L205.93,34.94 L205.97,34.82 L206.01,34.73 L206.03,34.70 L206.07,34.59 L206.12,34.49 L206.18,34.39 L206.22,34.30 L206.28,34.20 L206.32,34.12 L206.38,34.03 L206.82,33.39 L207.63,32.57 L208.44,32.01 L209.25,31.60 L210.06,31.29 L210.87,31.06 L211.68,30.89 L212.49,30.77 L213.30,30.68 L214.11,30.63 L214.92,30.60 L215.73,30.61 L216.54,30.63 L217.35,30.69 L218.16,30.76 L218.97,30.85 L219.78,30.96 L220.59,31.10 L221.39,31.25 L222.20,31.43 L223.01,31.62 L223.82,31.84 L224.63,32.08 L225.44,32.35 L226.25,32.64 L227.06,32.96 L227.87,33.32 L228.68,33.71 L229.49,34.14 L230.30,34.61 L231.11,35.14 L231.92,35.74 L232.73,36.41 L233.54,37.17 L234.35,38.07 L235.16,39.13 L235.97,40.44 L236.78,42.16 L237.30,43.63 L237.35,43.79 L237.40,43.96 L237.45,44.14 L237.50,44.32 L237.55,44.50 L237.59,44.64 L237.60,44.69 L237.65,44.89 L237.70,45.10 L237.75,45.31 L237.80,45.54 L237.85,45.77 L237.90,46.01 L237.95,46.27 L238.00,46.53 L238.05,46.81 L238.10,47.11 L238.15,47.42 L238.20,47.76 L238.25,48.11 L238.30,48.49 L238.35,48.89 L238.40,49.28 L238.40,49.33 L238.45,49.79 L238.50,50.30 L238.55,50.84 L238.60,51.41 L238.65,52.00 L238.70,52.54 L238.75,52.96 L238.80,53.11 L238.85,52.96 L238.90,52.54 L238.95,52.00 L239.00,51.41 L239.05,50.84 L239.10,50.30 L239.15,49.79 L239.20,49.33 L239.20,49.28 L239.25,48.89 L239.30,48.49 L239.35,48.11 L239.40,47.76 L239.45,47.42 L239.50,47.11 L239.55,46.81 L239.60,46.53 L239.65,46.27 L239.70,46.01 L239.75,45.77 L239.80,45.54 L239.85,45.31 L239.90,45.10 L239.95,44.89 L240.00,44.69 L240.01,44.64 L240.05,44.50 L240.10,44.32 L240.15,44.14 L240.20,43.96 L240.25,43.79 L240.30,43.63 L240.82,42.16 L241.63,40.44 L242.44,39.13 L243.25,38.07 L244.06,37.17 L244.87,36.41 L245.68,35.74 L246.49,35.14 L247.30,34.61 L248.11,34.14 L248.92,33.71 L249.73,33.32 L250.54,32.96 L251.35,32.64 L252.16,32.35 L252.97,32.08 L253.78,31.84 L254.59,31.62 L255.40,31.43 L256.21,31.25 L257.01,31.10 L257.82,30.96 L258.63,30.85 L259.44,30.76 L260.25,30.69 L261.06,30.63 L261.87,30.61 L262.68,30.60 L263.49,30.63 L264.30,30.68 L265.11,30.77 L265.92,30.89 L266.73,31.06 L267.54,31.29 L268.35,31.60 L269.16,32.01 L269.97,32.57 L270.78,33.39 L271.23,34.03 L271.28,34.12 L271.33,34.20 L271.38,34.30 L271.43,34.39 L271.48,34.49 L271.53,34.59 L271.58,34.70 L271.59,34.73 L271.62,34.82 L271.68,34.94 L271.73,35.06 L271.78,35.19 L271.83,35.33 L271.88,35.48 L271.93,35.63 L271.98,35.80 L272.03,35.97 L272.08,36.16 L272.12,36.36 L272.18,36.58 L272.23,36.81 L272.28,37.06 L272.33,37.34 L272.38,37.64 L272.40,37.78 L272.43,37.98 L272.48,38.34 L272.53,38.73 L272.58,39.13 L272.62,39.52 L272.68,39.81 L272.73,39.92 L272.78,39.80 L272.83,39.48 L272.88,39.08 L272.93,38.66 L272.98,38.25 L273.03,37.87 L273.08,37.52 L273.12,37.20 L273.18,36.91 L273.21,36.74 L273.23,36.64 L273.28,36.38 L273.33,36.15 L273.38,35.93 L273.43,35.73 L273.48,35.53 L273.53,35.35 L273.58,35.18 L273.62,35.01 L273.68,34.86 L273.73,34.71 L273.78,34.57 L273.83,34.43 L273.88,34.30 L273.93,34.18 L273.98,34.05 L274.02,33.96 L274.03,33.94 L274.08,33.82 L274.12,33.71 L274.18,33.61 L274.23,33.51 L274.82,32.47 L275.63,31.43 L276.44,30.61 L277.25,29.94 L278.06,29.36 L278.87,28.86 L279.68,28.40 L280.49,27.99 L281.30,27.61 L282.11,27.26 L282.92,26.94 L283.73,26.63 L284.54,26.35 L285.35,26.08 L286.16,25.83 L286.97,25.59 L287.78,25.37 L288.59,25.16 L289.40,24.96 L290.21,24.77 L291.02,24.59 L291.83,24.42 L292.63,24.27 L293.44,24.12 L294.25,23.98 L295.06,23.85 L295.87,23.73 L296.68,23.63 L297.49,23.53 L298.30,23.45 L299.11,23.38 L299.92,23.33 L300.73,23.30 L301.54,23.29 L302.35,23.30 L303.16,23.36 L303.97,23.48 L304.78,23.71 L305.15,23.86 L305.20,23.89 L305.25,23.92 L305.30,23.94 L305.35,23.97 L305.40,24.00 L305.45,24.04 L305.50,24.07 L305.55,24.11 L305.59,24.13 L305.60,24.14 L305.65,24.18 L305.70,24.23 L305.75,24.27 L305.80,24.32 L305.85,24.37 L305.90,24.43 L305.95,24.48 L306.00,24.55 L306.05,24.62 L306.10,24.69 L306.15,24.77 L306.20,24.86 L306.25,24.95 L306.30,25.06 L306.35,25.17 L306.40,25.29 L306.40,25.30 L306.45,25.44 L306.50,25.58 L306.55,25.72 L306.60,25.82 L306.65,25.85 L306.70,25.80 L306.75,25.68 L306.80,25.53 L306.85,25.37 L306.90,25.21 L306.95,25.07 L307.00,24.94 L307.05,24.81 L307.10,24.70 L307.15,24.60 L307.20,24.50 L307.21,24.49 L307.25,24.41 L307.30,24.32 L307.35,24.24 L307.40,24.17 L307.45,24.10 L307.50,24.03 L307.55,23.96 L307.60,23.90 L307.65,23.84 L307.70,23.78 L307.75,23.73 L307.80,23.68 L307.85,23.62 L307.90,23.57 L307.95,23.53 L308.00,23.48 L308.02,23.46 L308.05,23.43 L308.10,23.39 L308.15,23.35 L308.83,22.86 L309.64,22.40 L310.44,22.03 L311.25,21.70 L312.06,21.41 L312.87,21.15 L313.68,20.90 L314.49,20.68 L315.30,20.46 L316.11,20.26 L316.92,20.06 L317.73,19.87 L318.54,19.69 L319.35,19.52 L320.16,19.35 L320.97,19.19 L321.78,19.04 L322.59,18.88 L323.40,18.74 L324.21,18.59 L325.02,18.45 L325.83,18.31 L326.64,18.18 L327.45,18.05 L328.25,17.92 L329.06,17.80 L329.87,17.68 L330.68,17.56 L331.49,17.44 L332.30,17.33 L333.11,17.21 L333.92,17.10 L334.73,17.00 L335.54,16.89 L336.35,16.79 L337.16,16.68 L337.97,16.58 L338.78,16.48 L339.08,16.45 L339.13,16.44 L339.18,16.44 L339.23,16.43 L339.28,16.42 L339.33,16.42 L339.38,16.41 L339.43,16.41 L339.48,16.40 L339.53,16.39 L339.58,16.39 L339.59,16.39 L339.63,16.38 L339.68,16.38 L339.73,16.37 L339.78,16.37 L339.83,16.36 L339.88,16.35 L339.93,16.35 L339.98,16.34 L340.03,16.34 L340.08,16.33 L340.13,16.32 L340.18,16.32 L340.23,16.31 L340.28,16.31 L340.33,16.30 L340.38,16.29 L340.40,16.29 L340.43,16.29 L340.48,16.28 L340.53,16.28 L340.58,16.27 L340.63,16.27 L340.68,16.26 L340.73,16.25 L340.78,16.25 L340.83,16.24 L340.88,16.24 L340.93,16.23 L340.98,16.22 L341.03,16.22 L341.08,16.21 L341.13,16.21 L341.18,16.20 L341.21,16.20 L341.23,16.20 L341.28,16.19 L341.33,16.18 L341.38,16.18 L341.43,16.17 L341.48,16.17 L341.53,16.16 L341.58,16.16 L341.63,16.15 L341.68,16.14 L341.73,16.14 L341.78,16.13 L341.83,16.13 L341.88,16.12 L341.93,16.12 L341.98,16.11 L342.02,16.11 L342.03,16.10 L342.08,16.10 L342.83,16.02 L343.64,15.93 L344.45,15.84 L345.26,15.75 L346.06,15.67 L346.87,15.58 L347.68,15.50 L348.49,15.42 L349.30,15.34 L350.11,15.26 L350.92,15.18 L351.73,15.11 L352.54,15.03 L353.35,14.96 L354.16,14.88 L354.97,14.81 L355.78,14.74 L356.59,14.67 L357.40,14.60 L358.21,14.53 L359.02,14.47 L359.83,14.40 L360.64,14.34 L361.45,14.27 L362.26,14.21 L363.07,14.15 L363.87,14.08 L364.68,14.02 L365.49,13.96 L366.30,13.90 L367.11,13.85 L367.92,13.79 L368.73,13.73 L369.54,13.67 L370.35,13.62 L371.16,13.57 L371.97,13.51 L372.78,13.46 L373.59,13.41 L374.40,13.35 L375.21,13.30 L376.02,13.25 L376.83,13.20 L377.64,13.15 L378.45,13.11 L379.26,13.06 L380.07,13.01 L380.88,12.96 L381.68,12.92 L382.49,12.87 L383.30,12.83 L384.11,12.78 L384.92,12.74 L385.73,12.70 L386.54,12.66 L387.35,12.61 L388.16,12.57 L388.97,12.53 L389.78,12.49 L390.59,12.45 L391.40,12.41 L392.21,12.37 L393.02,12.34 L393.83,12.30 L394.64,12.26 L395.45,12.22 L396.26,12.19 L397.07,12.15 L397.88,12.12 L398.69,12.08 L399.49,12.05 L400.30,12.01 L401.11,11.98 L401.92,11.95 L402.73,11.92 L403.54,11.88 L404.35,11.85 L405.16,11.82 L405.97,11.79 L406.78,11.76 L407.59,11.73 L408.40,11.70" fill="none" stroke="#117A65" stroke-width="1.4" stroke-linejoin="round"/>
<path d="M69.20,-0.63 L70.01,-0.57 L70.82,-0.50 L71.63,-0.44 L72.44,-0.37 L73.25,-0.31 L74.06,-0.24 L74.87,-0.17 L75.68,-0.11 L76.49,-0.04 L77.30,0.03 L78.11,0.09 L78.91,0.16 L79.72,0.23 L80.53,0.30 L81.34,0.37 L82.15,0.44 L82.96,0.51 L83.77,0.58 L84.58,0.65 L85.39,0.72 L86.20,0.79 L87.01,0.87 L87.82,0.94 L88.63,1.01 L89.44,1.09 L90.25,1.16 L91.06,1.24 L91.87,1.31 L92.68,1.39 L93.49,1.47 L94.30,1.54 L95.11,1.62 L95.92,1.70 L96.72,1.78 L97.53,1.86 L98.34,1.94 L99.15,2.02 L99.96,2.10 L100.77,2.19 L101.58,2.27 L102.39,2.35 L103.20,2.44 L104.01,2.53 L104.82,2.61 L105.63,2.70 L106.44,2.79 L107.25,2.88 L108.06,2.97 L108.87,3.06 L109.68,3.15 L110.49,3.25 L111.30,3.34 L112.11,3.44 L112.92,3.53 L113.73,3.63 L114.53,3.73 L115.34,3.83 L116.15,3.93 L116.96,4.04 L117.77,4.14 L118.58,4.25 L119.39,4.36 L120.20,4.47 L121.01,4.58 L121.82,4.70 L122.63,4.81 L123.44,4.93 L124.25,5.06 L125.06,5.18 L125.87,5.31 L126.68,5.44 L127.49,5.58 L128.30,5.72 L129.11,5.87 L129.92,6.03 L130.73,6.19 L131.54,6.37 L132.34,6.55 L133.15,6.76 L133.96,6.99 L134.77,7.26 L135.52,7.58 L135.57,7.61 L135.58,7.61 L135.62,7.64 L135.67,7.66 L135.72,7.69 L135.77,7.72 L135.82,7.75 L135.87,7.78 L135.92,7.81 L135.97,7.84 L136.02,7.87 L136.07,7.91 L136.12,7.94 L136.17,7.98 L136.22,8.02 L136.27,8.06 L136.32,8.10 L136.37,8.15 L136.39,8.17 L136.42,8.20 L136.47,8.25 L136.52,8.30 L136.57,8.36 L136.62,8.43 L136.67,8.49 L136.72,8.57 L136.77,8.65 L136.82,8.74 L136.87,8.83 L136.92,8.91 L136.97,8.98 L137.02,9.01 L137.07,8.99 L137.12,8.94 L137.17,8.86 L137.20,8.82 L137.22,8.79 L137.27,8.71 L137.32,8.65 L137.37,8.59 L137.42,8.53 L137.47,8.48 L137.52,8.43 L137.57,8.39 L137.62,8.35 L137.67,8.32 L137.72,8.28 L137.77,8.25 L137.82,8.23 L137.87,8.20 L137.92,8.18 L137.97,8.15 L138.01,8.14 L138.02,8.13 L138.07,8.11 L138.12,8.09 L138.17,8.07 L138.22,8.06 L138.27,8.04 L138.32,8.03 L138.37,8.01 L138.42,8.00 L138.47,7.99 L138.52,7.97 L138.82,7.91 L139.63,7.81 L140.44,7.77 L141.25,7.77 L142.06,7.78 L142.87,7.81 L143.68,7.86 L144.49,7.91 L145.30,7.97 L146.11,8.04 L146.92,8.12 L147.73,8.20 L148.54,8.29 L149.35,8.39 L150.15,8.49 L150.96,8.59 L151.77,8.70 L152.58,8.81 L153.39,8.93 L154.20,9.06 L155.01,9.19 L155.82,9.32 L156.63,9.46 L157.44,9.61 L158.25,9.76 L159.06,9.92 L159.87,10.09 L160.68,10.27 L161.49,10.45 L162.30,10.65 L163.11,10.87 L163.92,11.09 L164.73,11.34 L165.54,11.61 L166.35,11.92 L167.16,12.26 L167.96,12.67 L168.77,13.18 L169.45,13.74 L169.50,13.79 L169.55,13.84 L169.58,13.88 L169.60,13.90 L169.65,13.95 L169.70,14.01 L169.75,14.07 L169.80,14.13 L169.85,14.19 L169.90,14.26 L169.95,14.32 L170.00,14.39 L170.05,14.47 L170.10,14.55 L170.15,14.63 L170.20,14.72 L170.25,14.81 L170.30,14.91 L170.35,15.01 L170.39,15.10 L170.40,15.12 L170.45,15.24 L170.50,15.37 L170.55,15.51 L170.60,15.66 L170.65,15.82 L170.70,16.00 L170.75,16.19 L170.80,16.39 L170.85,16.58 L170.90,16.72 L170.95,16.79 L171.00,16.74 L171.05,16.60 L171.10,16.43 L171.15,16.24 L171.20,16.06 L171.20,16.05 L171.25,15.90 L171.30,15.75 L171.35,15.61 L171.40,15.48 L171.45,15.37 L171.50,15.26 L171.55,15.16 L171.60,15.07 L171.65,14.99 L171.70,14.91 L171.75,14.84 L171.80,14.77 L171.85,14.70 L171.90,14.64 L171.95,14.58 L172.00,14.53 L172.01,14.51 L172.05,14.47 L172.10,14.42 L172.15,14.38 L172.20,14.33 L172.25,14.29 L172.30,14.24 L172.35,14.20 L172.40,14.17 L172.45,14.13 L172.82,13.89 L173.63,13.54 L174.44,13.31 L175.25,13.15 L176.06,13.04 L176.87,12.97 L177.68,12.93 L178.49,12.91 L179.30,12.90 L180.11,12.92 L180.92,12.94 L181.73,12.98 L182.54,13.03 L183.35,13.09 L184.16,13.16 L184.97,13.24 L185.77,13.33 L186.58,13.43 L187.39,13.53 L188.20,13.65 L189.01,13.77 L189.82,13.91 L190.63,14.05 L191.44,14.21 L192.25,14.38 L193.06,14.56 L193.87,14.75 L194.68,14.97 L195.49,15.19 L196.30,15.44 L197.11,15.71 L197.92,16.01 L198.73,16.35 L199.54,16.73 L200.35,17.16 L201.16,17.68 L201.97,18.31 L202.78,19.12 L203.38,19.95 L203.43,20.03 L203.47,20.12 L203.53,20.20 L203.57,20.29 L203.58,20.31 L203.62,20.39 L203.68,20.49 L203.72,20.59 L203.78,20.69 L203.82,20.80 L203.88,20.92 L203.93,21.04 L203.97,21.17 L204.03,21.30 L204.07,21.44 L204.12,21.59 L204.18,21.74 L204.22,21.91 L204.28,22.09 L204.32,22.28 L204.38,22.49 L204.39,22.57 L204.43,22.71 L204.47,22.95 L204.53,23.21 L204.57,23.50 L204.62,23.81 L204.68,24.15 L204.72,24.50 L204.78,24.83 L204.82,25.08 L204.88,25.18 L204.93,25.09 L204.97,24.84 L205.03,24.52 L205.07,24.18 L205.12,23.85 L205.18,23.55 L205.20,23.39 L205.22,23.27 L205.28,23.02 L205.32,22.78 L205.38,22.57 L205.43,22.37 L205.47,22.19 L205.53,22.02 L205.57,21.86 L205.62,21.71 L205.68,21.57 L205.72,21.44 L205.78,21.31 L205.82,21.20 L205.88,21.08 L205.93,20.98 L205.97,20.88 L206.01,20.80 L206.03,20.78 L206.07,20.69 L206.12,20.60 L206.18,20.51 L206.22,20.43 L206.28,20.35 L206.32,20.27 L206.38,20.20 L206.82,19.63 L207.63,18.90 L208.44,18.38 L209.25,17.98 L210.06,17.67 L210.87,17.42 L211.68,17.22 L212.49,17.05 L213.30,16.91 L214.11,16.80 L214.92,16.71 L215.73,16.64 L216.54,16.59 L217.35,16.56 L218.16,16.54 L218.97,16.53 L219.78,16.54 L220.59,16.56 L221.39,16.59 L222.20,16.64 L223.01,16.70 L223.82,16.78 L224.63,16.87 L225.44,16.97 L226.25,17.09 L227.06,17.23 L227.87,17.39 L228.68,17.57 L229.49,17.78 L230.30,18.01 L231.11,18.28 L231.92,18.59 L232.73,18.94 L233.54,19.37 L234.35,19.88 L235.16,20.51 L235.97,21.33 L236.78,22.46 L237.30,23.50 L237.35,23.62 L237.40,23.74 L237.45,23.87 L237.50,24.00 L237.55,24.14 L237.59,24.24 L237.60,24.29 L237.65,24.44 L237.70,24.60 L237.75,24.76 L237.80,24.94 L237.85,25.12 L237.90,25.31 L237.95,25.52 L238.00,25.74 L238.05,25.97 L238.10,26.22 L238.15,26.48 L238.20,26.77 L238.25,27.07 L238.30,27.41 L238.35,27.77 L238.40,28.13 L238.40,28.17 L238.45,28.61 L238.50,29.09 L238.55,29.62 L238.60,30.19 L238.65,30.79 L238.70,31.37 L238.75,31.82 L238.80,31.99 L238.85,31.82 L238.90,31.37 L238.95,30.79 L239.00,30.19 L239.05,29.62 L239.10,29.09 L239.15,28.61 L239.20,28.17 L239.20,28.13 L239.25,27.77 L239.30,27.41 L239.35,27.07 L239.40,26.77 L239.45,26.48 L239.50,26.22 L239.55,25.97 L239.60,25.74 L239.65,25.52 L239.70,25.31 L239.75,25.12 L239.80,24.94 L239.85,24.76 L239.90,24.60 L239.95,24.44 L240.00,24.29 L240.01,24.24 L240.05,24.14 L240.10,24.00 L240.15,23.87 L240.20,23.74 L240.25,23.62 L240.30,23.50 L240.82,22.46 L241.63,21.33 L242.44,20.51 L243.25,19.88 L244.06,19.37 L244.87,18.94 L245.68,18.59 L246.49,18.28 L247.30,18.01 L248.11,17.78 L248.92,17.57 L249.73,17.39 L250.54,17.23 L251.35,17.09 L252.16,16.97 L252.97,16.87 L253.78,16.78 L254.59,16.70 L255.40,16.64 L256.21,16.59 L257.01,16.56 L257.82,16.54 L258.63,16.53 L259.44,16.54 L260.25,16.56 L261.06,16.59 L261.87,16.64 L262.68,16.71 L263.49,16.80 L264.30,16.91 L265.11,17.05 L265.92,17.22 L266.73,17.42 L267.54,17.67 L268.35,17.98 L269.16,18.38 L269.97,18.90 L270.78,19.63 L271.23,20.20 L271.28,20.27 L271.33,20.35 L271.38,20.43 L271.43,20.51 L271.48,20.60 L271.53,20.69 L271.58,20.78 L271.59,20.80 L271.62,20.88 L271.68,20.98 L271.73,21.08 L271.78,21.20 L271.83,21.31 L271.88,21.44 L271.93,21.57 L271.98,21.71 L272.03,21.86 L272.08,22.02 L272.12,22.19 L272.18,22.37 L272.23,22.57 L272.28,22.78 L272.33,23.02 L272.38,23.27 L272.40,23.39 L272.43,23.55 L272.48,23.85 L272.53,24.18 L272.58,24.52 L272.62,24.84 L272.68,25.09 L272.73,25.18 L272.78,25.08 L272.83,24.83 L272.88,24.50 L272.93,24.15 L272.98,23.81 L273.03,23.50 L273.08,23.21 L273.12,22.95 L273.18,22.71 L273.21,22.57 L273.23,22.49 L273.28,22.28 L273.33,22.09 L273.38,21.91 L273.43,21.74 L273.48,21.59 L273.53,21.44 L273.58,21.30 L273.62,21.17 L273.68,21.04 L273.73,20.92 L273.78,20.80 L273.83,20.69 L273.88,20.59 L273.93,20.49 L273.98,20.39 L274.02,20.31 L274.03,20.29 L274.08,20.20 L274.12,20.12 L274.18,20.03 L274.23,19.95 L274.82,19.12 L275.63,18.31 L276.44,17.68 L277.25,17.16 L278.06,16.73 L278.87,16.35 L279.68,16.01 L280.49,15.71 L281.30,15.44 L282.11,15.19 L282.92,14.97 L283.73,14.75 L284.54,14.56 L285.35,14.38 L286.16,14.21 L286.97,14.05 L287.78,13.91 L288.59,13.77 L289.40,13.65 L290.21,13.53 L291.02,13.43 L291.83,13.33 L292.63,13.24 L293.44,13.16 L294.25,13.09 L295.06,13.03 L295.87,12.98 L296.68,12.94 L297.49,12.92 L298.30,12.90 L299.11,12.91 L299.92,12.93 L300.73,12.97 L301.54,13.04 L302.35,13.15 L303.16,13.31 L303.97,13.54 L304.78,13.89 L305.15,14.13 L305.20,14.17 L305.25,14.20 L305.30,14.24 L305.35,14.29 L305.40,14.33 L305.45,14.38 L305.50,14.42 L305.55,14.47 L305.59,14.51 L305.60,14.53 L305.65,14.58 L305.70,14.64 L305.75,14.70 L305.80,14.77 L305.85,14.84 L305.90,14.91 L305.95,14.99 L306.00,15.07 L306.05,15.16 L306.10,15.26 L306.15,15.37 L306.20,15.48 L306.25,15.61 L306.30,15.75 L306.35,15.90 L306.40,16.05 L306.40,16.06 L306.45,16.24 L306.50,16.43 L306.55,16.60 L306.60,16.74 L306.65,16.79 L306.70,16.72 L306.75,16.58 L306.80,16.39 L306.85,16.19 L306.90,16.00 L306.95,15.82 L307.00,15.66 L307.05,15.51 L307.10,15.37 L307.15,15.24 L307.20,15.12 L307.21,15.10 L307.25,15.01 L307.30,14.91 L307.35,14.81 L307.40,14.72 L307.45,14.63 L307.50,14.55 L307.55,14.47 L307.60,14.39 L307.65,14.32 L307.70,14.26 L307.75,14.19 L307.80,14.13 L307.85,14.07 L307.90,14.01 L307.95,13.95 L308.00,13.90 L308.02,13.88 L308.05,13.84 L308.10,13.79 L308.15,13.74 L308.83,13.18 L309.64,12.67 L310.44,12.26 L311.25,11.92 L312.06,11.61 L312.87,11.34 L313.68,11.09 L314.49,10.87 L315.30,10.65 L316.11,10.45 L316.92,10.27 L317.73,10.09 L318.54,9.92 L319.35,9.76 L320.16,9.61 L320.97,9.46 L321.78,9.32 L322.59,9.19 L323.40,9.06 L324.21,8.93 L325.02,8.81 L325.83,8.70 L326.64,8.59 L327.45,8.49 L328.25,8.39 L329.06,8.29 L329.87,8.20 L330.68,8.12 L331.49,8.04 L332.30,7.97 L333.11,7.91 L333.92,7.86 L334.73,7.81 L335.54,7.78 L336.35,7.77 L337.16,7.77 L337.97,7.81 L338.78,7.91 L339.08,7.97 L339.13,7.99 L339.18,8.00 L339.23,8.01 L339.28,8.03 L339.33,8.04 L339.38,8.06 L339.43,8.07 L339.48,8.09 L339.53,8.11 L339.58,8.13 L339.59,8.14 L339.63,8.15 L339.68,8.18 L339.73,8.20 L339.78,8.23 L339.83,8.25 L339.88,8.28 L339.93,8.32 L339.98,8.35 L340.03,8.39 L340.08,8.43 L340.13,8.48 L340.18,8.53 L340.23,8.59 L340.28,8.65 L340.33,8.71 L340.38,8.79 L340.40,8.82 L340.43,8.86 L340.48,8.94 L340.53,8.99 L340.58,9.01 L340.63,8.98 L340.68,8.91 L340.73,8.83 L340.78,8.74 L340.83,8.65 L340.88,8.57 L340.93,8.49 L340.98,8.43 L341.03,8.36 L341.08,8.30 L341.13,8.25 L341.18,8.20 L341.21,8.17 L341.23,8.15 L341.28,8.10 L341.33,8.06 L341.38,8.02 L341.43,7.98 L341.48,7.94 L341.53,7.91 L341.58,7.87 L341.63,7.84 L341.68,7.81 L341.73,7.78 L341.78,7.75 L341.83,7.72 L341.88,7.69 L341.93,7.66 L341.98,7.64 L342.02,7.61 L342.03,7.61 L342.08,7.58 L342.83,7.26 L343.64,6.99 L344.45,6.76 L345.26,6.55 L346.06,6.37 L346.87,6.19 L347.68,6.03 L348.49,5.87 L349.30,5.72 L350.11,5.58 L350.92,5.44 L351.73,5.31 L352.54,5.18 L353.35,5.06 L354.16,4.93 L354.97,4.81 L355.78,4.70 L356.59,4.58 L357.40,4.47 L358.21,4.36 L359.02,4.25 L359.83,4.14 L360.64,4.04 L361.45,3.93 L362.26,3.83 L363.07,3.73 L363.87,3.63 L364.68,3.53 L365.49,3.44 L366.30,3.34 L367.11,3.25 L367.92,3.15 L368.73,3.06 L369.54,2.97 L370.35,2.88 L371.16,2.79 L371.97,2.70 L372.78,2.61 L373.59,2.53 L374.40,2.44 L375.21,2.35 L376.02,2.27 L376.83,2.19 L377.64,2.10 L378.45,2.02 L379.26,1.94 L380.07,1.86 L380.88,1.78 L381.68,1.70 L382.49,1.62 L383.30,1.54 L384.11,1.47 L384.92,1.39 L385.73,1.31 L386.54,1.24 L387.35,1.16 L388.16,1.09 L388.97,1.01 L389.78,0.94 L390.59,0.87 L391.40,0.79 L392.21,0.72 L393.02,0.65 L393.83,0.58 L394.64,0.51 L395.45,0.44 L396.26,0.37 L397.07,0.30 L397.88,0.23 L398.69,0.16 L399.49,0.09 L400.30,0.03 L401.11,-0.04 L401.92,-0.11 L402.73,-0.17 L403.54,-0.24 L404.35,-0.31 L405.16,-0.37 L405.97,-0.44 L406.78,-0.50 L407.59,-0.57 L408.40,-0.63" fill="none" stroke="#48C9B0" stroke-width="1.4" stroke-linejoin="round"/>
<line x1="103.1" x2="103.1" y1="106.4" y2="6.4" stroke="#4a5d75" stroke-width="1.15" stroke-dasharray="4.2 4.42"/>
<line x1="137.02" x2="137.02" y1="106.4" y2="6.4" stroke="#4a5d75" stroke-width="1.15" stroke-dasharray="4.2 4.42"/>
<line x1="170.95" x2="170.95" y1="106.4" y2="6.4" stroke="#4a5d75" stroke-width="1.15" stroke-dasharray="4.2 4.42"/>
<line x1="204.88" x2="204.88" y1="106.4" y2="6.4" stroke="#4a5d75" stroke-width="1.15" stroke-dasharray="4.2 4.42"/>
<line x1="238.8" x2="238.8" y1="106.4" y2="6.4" stroke="#4a5d75" stroke-width="1.15" stroke-dasharray="4.2 4.42"/>
<line x1="272.73" x2="272.73" y1="106.4" y2="6.4" stroke="#4a5d75" stroke-width="1.15" stroke-dasharray="4.2 4.42"/>
<line x1="306.65" x2="306.65" y1="106.4" y2="6.4" stroke="#4a5d75" stroke-width="1.15" stroke-dasharray="4.2 4.42"/>
<line x1="340.58" x2="340.58" y1="106.4" y2="6.4" stroke="#4a5d75" stroke-width="1.15" stroke-dasharray="4.2 4.42"/>
<line x1="374.5" x2="374.5" y1="106.4" y2="6.4" stroke="#4a5d75" stroke-width="1.15" stroke-dasharray="4.2 4.42"/>
</g>
<rect x="69.2" y="6.4" width="339.2" height="100" fill="none" stroke="#fff" stroke-width="1"/>
<line x1="64.6" x2="69.2" y1="106.4" y2="106.4" stroke="#555555" stroke-width="1"/>
<line x1="408.4" x2="413" y1="106.4" y2="106.4" stroke="#555555" stroke-width="1"/>
<line x1="64.6" x2="69.2" y1="69.3" y2="69.3" stroke="#555555" stroke-width="1"/>
<line x1="408.4" x2="413" y1="69.3" y2="69.3" stroke="#555555" stroke-width="1"/>
<line x1="64.6" x2="69.2" y1="32.2" y2="32.2" stroke="#555555" stroke-width="1"/>
<line x1="408.4" x2="413" y1="32.2" y2="32.2" stroke="#555555" stroke-width="1"/>
<line x1="103.1" x2="103.1" y1="106.4" y2="111" stroke="#555555" stroke-width="1"/>
<line x1="103.1" x2="103.1" y1="1.8" y2="6.4" stroke="#555555" stroke-width="1"/>
<line x1="170.95" x2="170.95" y1="106.4" y2="111" stroke="#555555" stroke-width="1"/>
<line x1="170.95" x2="170.95" y1="1.8" y2="6.4" stroke="#555555" stroke-width="1"/>
<line x1="238.8" x2="238.8" y1="106.4" y2="111" stroke="#555555" stroke-width="1"/>
<line x1="238.8" x2="238.8" y1="1.8" y2="6.4" stroke="#555555" stroke-width="1"/>
<line x1="306.65" x2="306.65" y1="106.4" y2="111" stroke="#555555" stroke-width="1"/>
<line x1="306.65" x2="306.65" y1="1.8" y2="6.4" stroke="#555555" stroke-width="1"/>
<line x1="374.5" x2="374.5" y1="106.4" y2="111" stroke="#555555" stroke-width="1"/>
<line x1="374.5" x2="374.5" y1="1.8" y2="6.4" stroke="#555555" stroke-width="1"/>
<text x="62.6" y="111.3" font-size="17" text-anchor="end" fill="#6e6e6e" textLength="20.2" lengthAdjust="spacingAndGlyphs">0.0</text>
<text x="62.6" y="74.2" font-size="17" text-anchor="end" fill="#6e6e6e" textLength="20.2" lengthAdjust="spacingAndGlyphs">0.1</text>
<text x="62.6" y="37.1" font-size="17" text-anchor="end" fill="#6e6e6e" textLength="20.2" lengthAdjust="spacingAndGlyphs">0.2</text>
<text y="125.3" font-size="17" fill="#6e6e6e"><tspan x="86.6" textLength="10.9" lengthAdjust="spacingAndGlyphs">−</tspan><tspan x="99.5" textLength="20.2" lengthAdjust="spacingAndGlyphs">0.4</tspan></text>
<text y="125.3" font-size="17" fill="#6e6e6e"><tspan x="154.45" textLength="10.9" lengthAdjust="spacingAndGlyphs">−</tspan><tspan x="167.35" textLength="20.2" lengthAdjust="spacingAndGlyphs">0.2</tspan></text>
<text x="238.8" y="125.3" font-size="17" text-anchor="middle" fill="#6e6e6e" textLength="20.2" lengthAdjust="spacingAndGlyphs">0.0</text>
<text x="306.65" y="125.3" font-size="17" text-anchor="middle" fill="#6e6e6e" textLength="20.2" lengthAdjust="spacingAndGlyphs">0.2</text>
<text x="374.5" y="125.3" font-size="17" text-anchor="middle" fill="#6e6e6e" textLength="20.2" lengthAdjust="spacingAndGlyphs">0.4</text>
<rect x="75.2" y="36.5" width="107" height="63" rx="3" ry="3" fill="#fff"/>
<line x1="84" x2="104" y1="47.3" y2="47.3" stroke="#DC143C" stroke-width="1.4"/>
<text y="51.7" font-size="12.5" fill="#2a2a2a"><tspan x="117.9" textLength="9.2" lengthAdjust="spacingAndGlyphs">Δ</tspan><tspan x="127.5" font-style="italic">ϵ</tspan><tspan x="136.2" textLength="8.6" lengthAdjust="spacingAndGlyphs">=</tspan><tspan x="148.6">0.0</tspan></text>
<line x1="84" x2="104" y1="60.63" y2="60.63" stroke="#FFA500" stroke-width="1.4"/>
<text y="65.03" font-size="12.5" fill="#2a2a2a"><tspan x="117.9" textLength="9.2" lengthAdjust="spacingAndGlyphs">Δ</tspan><tspan x="127.5" font-style="italic">ϵ</tspan><tspan x="136.2" textLength="8.6" lengthAdjust="spacingAndGlyphs">=</tspan><tspan x="148.6">0.025</tspan></text>
<line x1="84" x2="104" y1="73.96" y2="73.96" stroke="#117A65" stroke-width="1.4"/>
<text y="78.36" font-size="12.5" fill="#2a2a2a"><tspan x="117.9" textLength="9.2" lengthAdjust="spacingAndGlyphs">Δ</tspan><tspan x="127.5" font-style="italic">ϵ</tspan><tspan x="136.2" textLength="8.6" lengthAdjust="spacingAndGlyphs">=</tspan><tspan x="148.6">0.05</tspan></text>
<line x1="84" x2="104" y1="87.29" y2="87.29" stroke="#48C9B0" stroke-width="1.4"/>
<text y="91.69" font-size="12.5" fill="#2a2a2a"><tspan x="117.9" textLength="9.2" lengthAdjust="spacingAndGlyphs">Δ</tspan><tspan x="127.5" font-style="italic">ϵ</tspan><tspan x="136.2" textLength="8.6" lengthAdjust="spacingAndGlyphs">=</tspan><tspan x="148.6">0.075</tspan></text>
<g transform="translate(32.0,65.6) rotate(-90)" fill="#6a6a6a">
<text x="0" y="0" font-size="20" font-style="italic" textLength="10.2" lengthAdjust="spacingAndGlyphs">ρ</text>
<text x="10.7" y="4" font-size="13.6" textLength="7.9" lengthAdjust="spacingAndGlyphs">B</text>
</g>
<rect x="69.2" y="156.6" width="339.2" height="100" fill="#E5E5E5"/>
<line x1="141.39" x2="141.39" y1="156.6" y2="256.6" stroke="#fff" stroke-width="1"/>
<line x1="213.57" x2="213.57" y1="156.6" y2="256.6" stroke="#fff" stroke-width="1"/>
<line x1="285.76" x2="285.76" y1="156.6" y2="256.6" stroke="#fff" stroke-width="1"/>
<line x1="357.94" x2="357.94" y1="156.6" y2="256.6" stroke="#fff" stroke-width="1"/>
<line x1="69.2" x2="408.4" y1="231.6" y2="231.6" stroke="#fff" stroke-width="1"/>
<line x1="69.2" x2="408.4" y1="206.6" y2="206.6" stroke="#fff" stroke-width="1"/>
<line x1="69.2" x2="408.4" y1="181.6" y2="181.6" stroke="#fff" stroke-width="1"/>
<g clip-path="url(#c1)">
<line x1="80.4" y1="162.2" x2="408.4" y2="162.2" stroke="#111" stroke-width="1.7" stroke-dasharray="4.6 4.095"/>
<g fill="#DC143C" stroke="#1a1a1a" stroke-width="0.55">
<circle cx="74.67" cy="255.8" r="2.25"/>
<circle cx="80.39" cy="254.5" r="2.25"/>
<circle cx="86.11" cy="253.2" r="2.25"/>
<circle cx="91.83" cy="251.8" r="2.25"/>
<circle cx="97.55" cy="250.4" r="2.25"/>
<circle cx="103.27" cy="248.4" r="2.25"/>
<circle cx="108.99" cy="246" r="2.25"/>
<circle cx="114.71" cy="243" r="2.25"/>
<circle cx="120.43" cy="238.8" r="2.25"/>
<circle cx="126.15" cy="233.3" r="2.25"/>
<circle cx="131.87" cy="226.1" r="2.25"/>
<circle cx="137.59" cy="217.7" r="2.25"/>
<circle cx="143.31" cy="210.5" r="2.25"/>
<circle cx="149.03" cy="204.3" r="2.25"/>
<circle cx="154.75" cy="195.9" r="2.25"/>
<circle cx="160.47" cy="189.9" r="2.25"/>
<circle cx="166.19" cy="184.3" r="2.25"/>
<circle cx="171.91" cy="179" r="2.25"/>
<circle cx="177.63" cy="176.1" r="2.25"/>
<circle cx="183.35" cy="172.9" r="2.25"/>
<circle cx="189.07" cy="169.3" r="2.25"/>
<circle cx="194.79" cy="168.4" r="2.25"/>
<circle cx="200.51" cy="167.9" r="2.25"/>
<circle cx="206.23" cy="165.7" r="2.25"/>
<circle cx="211.95" cy="164.5" r="2.25"/>
<circle cx="217.67" cy="163.8" r="2.25"/>
<circle cx="223.39" cy="163.3" r="2.25"/>
<circle cx="229.1" cy="162.7" r="2.25"/>
<circle cx="234.6" cy="162.7" r="2.25"/>
<circle cx="240.5" cy="162.7" r="2.25"/>
<circle cx="246" cy="164" r="2.25"/>
<circle cx="251.9" cy="162.2" r="2.25"/>
<circle cx="257.7" cy="162.2" r="2.25"/>
<circle cx="263.3" cy="162.2" r="2.25"/>
<circle cx="269.1" cy="161.1" r="2.25"/>
<circle cx="274.9" cy="161.9" r="2.25"/>
<circle cx="280.5" cy="161.7" r="2.25"/>
<circle cx="286.3" cy="160.9" r="2.25"/>
<circle cx="289.5" cy="161.9" r="2.25"/>
<circle cx="297.7" cy="162.7" r="2.25"/>
<circle cx="303.5" cy="162.2" r="2.25"/>
<circle cx="309.1" cy="161.9" r="2.25"/>
<circle cx="313.3" cy="162.7" r="2.25"/>
<circle cx="326.6" cy="162.2" r="2.25"/>
<circle cx="331.4" cy="162.2" r="2.25"/>
</g>
<line x1="80.4" y1="201" x2="408.4" y2="183.3" stroke="#111" stroke-width="1.7" stroke-dasharray="4.6 4.095"/>
<g fill="#FFA500" stroke="#1a1a1a" stroke-width="0.55">
<circle cx="74.67" cy="256.1" r="2.25"/>
<circle cx="80.39" cy="254.9" r="2.25"/>
<circle cx="86.11" cy="254" r="2.25"/>
<circle cx="91.83" cy="253" r="2.25"/>
<circle cx="97.55" cy="252" r="2.25"/>
<circle cx="103.27" cy="250.5" r="2.25"/>
<circle cx="108.99" cy="248.8" r="2.25"/>
<circle cx="114.71" cy="246.8" r="2.25"/>
<circle cx="120.43" cy="244" r="2.25"/>
<circle cx="126.15" cy="240.5" r="2.25"/>
<circle cx="131.87" cy="235.7" r="2.25"/>
<circle cx="137.59" cy="229.9" r="2.25"/>
<circle cx="143.31" cy="225" r="2.25"/>
<circle cx="149.03" cy="220.5" r="2.25"/>
<circle cx="154.75" cy="214.7" r="2.25"/>
<circle cx="160.47" cy="210.4" r="2.25"/>
<circle cx="166.19" cy="206.3" r="2.25"/>
<circle cx="171.91" cy="201.9" r="2.25"/>
<circle cx="177.63" cy="200.2" r="2.25"/>
<circle cx="183.35" cy="197.8" r="2.25"/>
<circle cx="189.07" cy="195.2" r="2.25"/>
<circle cx="194.79" cy="194.7" r="2.25"/>
<circle cx="200.51" cy="193.7" r="2.25"/>
<circle cx="206.23" cy="192.3" r="2.25"/>
<circle cx="211.95" cy="191.1" r="2.25"/>
<circle cx="217.67" cy="190.3" r="2.25"/>
<circle cx="223.39" cy="189.4" r="2.25"/>
<circle cx="229.1" cy="189.2" r="2.25"/>
<circle cx="234.6" cy="189" r="2.25"/>
<circle cx="240.5" cy="189" r="2.25"/>
<circle cx="246" cy="189.5" r="2.25"/>
<circle cx="251.9" cy="187.9" r="2.25"/>
<circle cx="257.7" cy="187.4" r="2.25"/>
<circle cx="263.3" cy="187.4" r="2.25"/>
<circle cx="269.1" cy="186" r="2.25"/>
<circle cx="274.9" cy="186.6" r="2.25"/>
<circle cx="280.5" cy="186" r="2.25"/>
<circle cx="286.3" cy="185" r="2.25"/>
<circle cx="289.5" cy="186" r="2.25"/>
<circle cx="297.7" cy="186.8" r="2.25"/>
<circle cx="303.5" cy="186.3" r="2.25"/>
<circle cx="309.1" cy="186.3" r="2.25"/>
<circle cx="313.3" cy="187.4" r="2.25"/>
<circle cx="326.6" cy="187.1" r="2.25"/>
<circle cx="331.4" cy="189" r="2.25"/>
</g>
<line x1="80.4" y1="223.7" x2="408.4" y2="217.6" stroke="#111" stroke-width="1.7" stroke-dasharray="4.6 4.095"/>
<g fill="#117A65" stroke="#1a1a1a" stroke-width="0.55">
<circle cx="74.67" cy="256.3" r="2.25"/>
<circle cx="80.39" cy="255.5" r="2.25"/>
<circle cx="86.11" cy="254.7" r="2.25"/>
<circle cx="91.83" cy="254" r="2.25"/>
<circle cx="97.55" cy="253.4" r="2.25"/>
<circle cx="103.27" cy="252.4" r="2.25"/>
<circle cx="108.99" cy="251.3" r="2.25"/>
<circle cx="114.71" cy="250.1" r="2.25"/>
<circle cx="120.43" cy="248.6" r="2.25"/>
<circle cx="126.15" cy="246.8" r="2.25"/>
<circle cx="131.87" cy="244.7" r="2.25"/>
<circle cx="137.59" cy="241.8" r="2.25"/>
<circle cx="143.31" cy="239.4" r="2.25"/>
<circle cx="149.03" cy="237" r="2.25"/>
<circle cx="154.75" cy="233.8" r="2.25"/>
<circle cx="160.47" cy="231.4" r="2.25"/>
<circle cx="166.19" cy="229" r="2.25"/>
<circle cx="171.91" cy="227.3" r="2.25"/>
<circle cx="177.63" cy="226.6" r="2.25"/>
<circle cx="183.35" cy="225.4" r="2.25"/>
<circle cx="189.07" cy="224.2" r="2.25"/>
<circle cx="194.79" cy="223.7" r="2.25"/>
<circle cx="200.51" cy="223.2" r="2.25"/>
<circle cx="206.23" cy="222.5" r="2.25"/>
<circle cx="211.95" cy="222" r="2.25"/>
<circle cx="217.67" cy="221.7" r="2.25"/>
<circle cx="223.39" cy="221.5" r="2.25"/>
<circle cx="229.1" cy="221.6" r="2.25"/>
<circle cx="234.6" cy="221.6" r="2.25"/>
<circle cx="240.5" cy="221.6" r="2.25"/>
<circle cx="246" cy="221.8" r="2.25"/>
<circle cx="251.9" cy="221" r="2.25"/>
<circle cx="257.7" cy="220.8" r="2.25"/>
<circle cx="263.3" cy="220.8" r="2.25"/>
<circle cx="269.1" cy="220.2" r="2.25"/>
<circle cx="274.9" cy="220.8" r="2.25"/>
<circle cx="280.5" cy="220.5" r="2.25"/>
<circle cx="286.3" cy="220" r="2.25"/>
<circle cx="289.5" cy="220.5" r="2.25"/>
<circle cx="297.7" cy="221.3" r="2.25"/>
<circle cx="303.5" cy="221.3" r="2.25"/>
<circle cx="309.1" cy="221.6" r="2.25"/>
<circle cx="313.3" cy="223.4" r="2.25"/>
<circle cx="326.6" cy="224.7" r="2.25"/>
<circle cx="331.4" cy="229.5" r="2.25"/>
</g>
<line x1="80.4" y1="232.7" x2="408.4" y2="231.6" stroke="#111" stroke-width="1.7" stroke-dasharray="4.6 4.095"/>
<g fill="#48C9B0" stroke="#1a1a1a" stroke-width="0.55">
<circle cx="74.67" cy="256.5" r="2.25"/>
<circle cx="80.39" cy="255.9" r="2.25"/>
<circle cx="86.11" cy="255.3" r="2.25"/>
<circle cx="91.83" cy="254.7" r="2.25"/>
<circle cx="97.55" cy="254.4" r="2.25"/>
<circle cx="103.27" cy="253.6" r="2.25"/>
<circle cx="108.99" cy="252.8" r="2.25"/>
<circle cx="114.71" cy="252" r="2.25"/>
<circle cx="120.43" cy="251.1" r="2.25"/>
<circle cx="126.15" cy="249.7" r="2.25"/>
<circle cx="131.87" cy="248.2" r="2.25"/>
<circle cx="137.59" cy="246.3" r="2.25"/>
<circle cx="143.31" cy="244.5" r="2.25"/>
<circle cx="149.03" cy="243" r="2.25"/>
<circle cx="154.75" cy="240.6" r="2.25"/>
<circle cx="160.47" cy="239.4" r="2.25"/>
<circle cx="166.19" cy="238.2" r="2.25"/>
<circle cx="171.91" cy="236.2" r="2.25"/>
<circle cx="177.63" cy="236.2" r="2.25"/>
<circle cx="183.35" cy="235.3" r="2.25"/>
<circle cx="189.07" cy="234.5" r="2.25"/>
<circle cx="194.79" cy="234.5" r="2.25"/>
<circle cx="200.51" cy="235" r="2.25"/>
<circle cx="206.23" cy="233.8" r="2.25"/>
<circle cx="211.95" cy="233.6" r="2.25"/>
<circle cx="217.67" cy="233.3" r="2.25"/>
<circle cx="223.39" cy="233.3" r="2.25"/>
<circle cx="229.1" cy="233.5" r="2.25"/>
<circle cx="234.6" cy="233.5" r="2.25"/>
<circle cx="240.5" cy="233.5" r="2.25"/>
<circle cx="246" cy="234" r="2.25"/>
<circle cx="251.9" cy="233.5" r="2.25"/>
<circle cx="257.7" cy="233.5" r="2.25"/>
<circle cx="263.3" cy="233.5" r="2.25"/>
<circle cx="269.1" cy="233" r="2.25"/>
<circle cx="274.9" cy="233.5" r="2.25"/>
<circle cx="280.5" cy="233.5" r="2.25"/>
<circle cx="286.3" cy="233.2" r="2.25"/>
<circle cx="289.5" cy="233.5" r="2.25"/>
<circle cx="297.7" cy="234.3" r="2.25"/>
<circle cx="303.5" cy="234.8" r="2.25"/>
<circle cx="309.1" cy="235.3" r="2.25"/>
<circle cx="313.3" cy="236.4" r="2.25"/>
<circle cx="326.6" cy="238" r="2.25"/>
<circle cx="331.4" cy="243.3" r="2.25"/>
</g>
</g>
<rect x="69.2" y="156.6" width="339.2" height="100" fill="none" stroke="#fff" stroke-width="1"/>
<line x1="64.6" x2="69.2" y1="256.6" y2="256.6" stroke="#555555" stroke-width="1"/>
<line x1="408.4" x2="413" y1="256.6" y2="256.6" stroke="#555555" stroke-width="1"/>
<line x1="64.6" x2="69.2" y1="231.6" y2="231.6" stroke="#555555" stroke-width="1"/>
<line x1="408.4" x2="413" y1="231.6" y2="231.6" stroke="#555555" stroke-width="1"/>
<line x1="64.6" x2="69.2" y1="206.6" y2="206.6" stroke="#555555" stroke-width="1"/>
<line x1="408.4" x2="413" y1="206.6" y2="206.6" stroke="#555555" stroke-width="1"/>
<line x1="64.6" x2="69.2" y1="181.6" y2="181.6" stroke="#555555" stroke-width="1"/>
<line x1="408.4" x2="413" y1="181.6" y2="181.6" stroke="#555555" stroke-width="1"/>
<line x1="64.6" x2="69.2" y1="156.6" y2="156.6" stroke="#555555" stroke-width="1"/>
<line x1="408.4" x2="413" y1="156.6" y2="156.6" stroke="#555555" stroke-width="1"/>
<line x1="69.2" x2="69.2" y1="256.6" y2="261.2" stroke="#555555" stroke-width="1"/>
<line x1="69.2" x2="69.2" y1="152" y2="156.6" stroke="#555555" stroke-width="1"/>
<line x1="141.39" x2="141.39" y1="256.6" y2="261.2" stroke="#555555" stroke-width="1"/>
<line x1="141.39" x2="141.39" y1="152" y2="156.6" stroke="#555555" stroke-width="1"/>
<line x1="213.57" x2="213.57" y1="256.6" y2="261.2" stroke="#555555" stroke-width="1"/>
<line x1="213.57" x2="213.57" y1="152" y2="156.6" stroke="#555555" stroke-width="1"/>
<line x1="285.76" x2="285.76" y1="256.6" y2="261.2" stroke="#555555" stroke-width="1"/>
<line x1="285.76" x2="285.76" y1="152" y2="156.6" stroke="#555555" stroke-width="1"/>
<line x1="357.94" x2="357.94" y1="256.6" y2="261.2" stroke="#555555" stroke-width="1"/>
<line x1="357.94" x2="357.94" y1="152" y2="156.6" stroke="#555555" stroke-width="1"/>
<line x1="90.93" x2="90.93" y1="256.6" y2="258.6" stroke="#555555" stroke-width="0.7"/>
<line x1="90.93" x2="90.93" y1="154.6" y2="156.6" stroke="#555555" stroke-width="0.7"/>
<line x1="103.64" x2="103.64" y1="256.6" y2="258.6" stroke="#555555" stroke-width="0.7"/>
<line x1="103.64" x2="103.64" y1="154.6" y2="156.6" stroke="#555555" stroke-width="0.7"/>
<line x1="112.66" x2="112.66" y1="256.6" y2="258.6" stroke="#555555" stroke-width="0.7"/>
<line x1="112.66" x2="112.66" y1="154.6" y2="156.6" stroke="#555555" stroke-width="0.7"/>
<line x1="119.66" x2="119.66" y1="256.6" y2="258.6" stroke="#555555" stroke-width="0.7"/>
<line x1="119.66" x2="119.66" y1="154.6" y2="156.6" stroke="#555555" stroke-width="0.7"/>
<line x1="125.37" x2="125.37" y1="256.6" y2="258.6" stroke="#555555" stroke-width="0.7"/>
<line x1="125.37" x2="125.37" y1="154.6" y2="156.6" stroke="#555555" stroke-width="0.7"/>
<line x1="130.2" x2="130.2" y1="256.6" y2="258.6" stroke="#555555" stroke-width="0.7"/>
<line x1="130.2" x2="130.2" y1="154.6" y2="156.6" stroke="#555555" stroke-width="0.7"/>
<line x1="134.39" x2="134.39" y1="256.6" y2="258.6" stroke="#555555" stroke-width="0.7"/>
<line x1="134.39" x2="134.39" y1="154.6" y2="156.6" stroke="#555555" stroke-width="0.7"/>
<line x1="138.08" x2="138.08" y1="256.6" y2="258.6" stroke="#555555" stroke-width="0.7"/>
<line x1="138.08" x2="138.08" y1="154.6" y2="156.6" stroke="#555555" stroke-width="0.7"/>
<line x1="163.12" x2="163.12" y1="256.6" y2="258.6" stroke="#555555" stroke-width="0.7"/>
<line x1="163.12" x2="163.12" y1="154.6" y2="156.6" stroke="#555555" stroke-width="0.7"/>
<line x1="175.83" x2="175.83" y1="256.6" y2="258.6" stroke="#555555" stroke-width="0.7"/>
<line x1="175.83" x2="175.83" y1="154.6" y2="156.6" stroke="#555555" stroke-width="0.7"/>
<line x1="184.85" x2="184.85" y1="256.6" y2="258.6" stroke="#555555" stroke-width="0.7"/>
<line x1="184.85" x2="184.85" y1="154.6" y2="156.6" stroke="#555555" stroke-width="0.7"/>
<line x1="191.84" x2="191.84" y1="256.6" y2="258.6" stroke="#555555" stroke-width="0.7"/>
<line x1="191.84" x2="191.84" y1="154.6" y2="156.6" stroke="#555555" stroke-width="0.7"/>
<line x1="197.56" x2="197.56" y1="256.6" y2="258.6" stroke="#555555" stroke-width="0.7"/>
<line x1="197.56" x2="197.56" y1="154.6" y2="156.6" stroke="#555555" stroke-width="0.7"/>
<line x1="202.39" x2="202.39" y1="256.6" y2="258.6" stroke="#555555" stroke-width="0.7"/>
<line x1="202.39" x2="202.39" y1="154.6" y2="156.6" stroke="#555555" stroke-width="0.7"/>
<line x1="206.58" x2="206.58" y1="256.6" y2="258.6" stroke="#555555" stroke-width="0.7"/>
<line x1="206.58" x2="206.58" y1="154.6" y2="156.6" stroke="#555555" stroke-width="0.7"/>
<line x1="210.27" x2="210.27" y1="256.6" y2="258.6" stroke="#555555" stroke-width="0.7"/>
<line x1="210.27" x2="210.27" y1="154.6" y2="156.6" stroke="#555555" stroke-width="0.7"/>
<line x1="235.3" x2="235.3" y1="256.6" y2="258.6" stroke="#555555" stroke-width="0.7"/>
<line x1="235.3" x2="235.3" y1="154.6" y2="156.6" stroke="#555555" stroke-width="0.7"/>
<line x1="248.01" x2="248.01" y1="256.6" y2="258.6" stroke="#555555" stroke-width="0.7"/>
<line x1="248.01" x2="248.01" y1="154.6" y2="156.6" stroke="#555555" stroke-width="0.7"/>
<line x1="257.03" x2="257.03" y1="256.6" y2="258.6" stroke="#555555" stroke-width="0.7"/>
<line x1="257.03" x2="257.03" y1="154.6" y2="156.6" stroke="#555555" stroke-width="0.7"/>
<line x1="264.03" x2="264.03" y1="256.6" y2="258.6" stroke="#555555" stroke-width="0.7"/>
<line x1="264.03" x2="264.03" y1="154.6" y2="156.6" stroke="#555555" stroke-width="0.7"/>
<line x1="269.74" x2="269.74" y1="256.6" y2="258.6" stroke="#555555" stroke-width="0.7"/>
<line x1="269.74" x2="269.74" y1="154.6" y2="156.6" stroke="#555555" stroke-width="0.7"/>
<line x1="274.58" x2="274.58" y1="256.6" y2="258.6" stroke="#555555" stroke-width="0.7"/>
<line x1="274.58" x2="274.58" y1="154.6" y2="156.6" stroke="#555555" stroke-width="0.7"/>
<line x1="278.76" x2="278.76" y1="256.6" y2="258.6" stroke="#555555" stroke-width="0.7"/>
<line x1="278.76" x2="278.76" y1="154.6" y2="156.6" stroke="#555555" stroke-width="0.7"/>
<line x1="282.46" x2="282.46" y1="256.6" y2="258.6" stroke="#555555" stroke-width="0.7"/>
<line x1="282.46" x2="282.46" y1="154.6" y2="156.6" stroke="#555555" stroke-width="0.7"/>
<line x1="307.49" x2="307.49" y1="256.6" y2="258.6" stroke="#555555" stroke-width="0.7"/>
<line x1="307.49" x2="307.49" y1="154.6" y2="156.6" stroke="#555555" stroke-width="0.7"/>
<line x1="320.2" x2="320.2" y1="256.6" y2="258.6" stroke="#555555" stroke-width="0.7"/>
<line x1="320.2" x2="320.2" y1="154.6" y2="156.6" stroke="#555555" stroke-width="0.7"/>
<line x1="329.22" x2="329.22" y1="256.6" y2="258.6" stroke="#555555" stroke-width="0.7"/>
<line x1="329.22" x2="329.22" y1="154.6" y2="156.6" stroke="#555555" stroke-width="0.7"/>
<line x1="336.21" x2="336.21" y1="256.6" y2="258.6" stroke="#555555" stroke-width="0.7"/>
<line x1="336.21" x2="336.21" y1="154.6" y2="156.6" stroke="#555555" stroke-width="0.7"/>
<line x1="341.93" x2="341.93" y1="256.6" y2="258.6" stroke="#555555" stroke-width="0.7"/>
<line x1="341.93" x2="341.93" y1="154.6" y2="156.6" stroke="#555555" stroke-width="0.7"/>
<line x1="346.76" x2="346.76" y1="256.6" y2="258.6" stroke="#555555" stroke-width="0.7"/>
<line x1="346.76" x2="346.76" y1="154.6" y2="156.6" stroke="#555555" stroke-width="0.7"/>
<line x1="350.95" x2="350.95" y1="256.6" y2="258.6" stroke="#555555" stroke-width="0.7"/>
<line x1="350.95" x2="350.95" y1="154.6" y2="156.6" stroke="#555555" stroke-width="0.7"/>
<line x1="354.64" x2="354.64" y1="256.6" y2="258.6" stroke="#555555" stroke-width="0.7"/>
<line x1="354.64" x2="354.64" y1="154.6" y2="156.6" stroke="#555555" stroke-width="0.7"/>
<line x1="379.67" x2="379.67" y1="256.6" y2="258.6" stroke="#555555" stroke-width="0.7"/>
<line x1="379.67" x2="379.67" y1="154.6" y2="156.6" stroke="#555555" stroke-width="0.7"/>
<line x1="392.39" x2="392.39" y1="256.6" y2="258.6" stroke="#555555" stroke-width="0.7"/>
<line x1="392.39" x2="392.39" y1="154.6" y2="156.6" stroke="#555555" stroke-width="0.7"/>
<line x1="401.4" x2="401.4" y1="256.6" y2="258.6" stroke="#555555" stroke-width="0.7"/>
<line x1="401.4" x2="401.4" y1="154.6" y2="156.6" stroke="#555555" stroke-width="0.7"/>
<text x="62.6" y="261.5" font-size="17" text-anchor="end" fill="#6e6e6e" textLength="28.2" lengthAdjust="spacingAndGlyphs">0.00</text>
<text x="62.6" y="236.5" font-size="17" text-anchor="end" fill="#6e6e6e" textLength="28.2" lengthAdjust="spacingAndGlyphs">0.04</text>
<text x="62.6" y="211.5" font-size="17" text-anchor="end" fill="#6e6e6e" textLength="28.2" lengthAdjust="spacingAndGlyphs">0.08</text>
<text x="62.6" y="186.5" font-size="17" text-anchor="end" fill="#6e6e6e" textLength="28.2" lengthAdjust="spacingAndGlyphs">0.12</text>
<text x="62.6" y="161.5" font-size="17" text-anchor="end" fill="#6e6e6e" textLength="28.2" lengthAdjust="spacingAndGlyphs">0.16</text>
<text x="54.3" y="276.6" font-size="17" fill="#6e6e6e"><tspan textLength="15.3" lengthAdjust="spacingAndGlyphs">10</tspan><tspan font-size="11.8" dy="-6.5" dx="1.2" textLength="13.8" lengthAdjust="spacingAndGlyphs">−5</tspan></text>
<text x="126.49" y="276.6" font-size="17" fill="#6e6e6e"><tspan textLength="15.3" lengthAdjust="spacingAndGlyphs">10</tspan><tspan font-size="11.8" dy="-6.5" dx="1.2" textLength="13.8" lengthAdjust="spacingAndGlyphs">−4</tspan></text>
<text x="198.67" y="276.6" font-size="17" fill="#6e6e6e"><tspan textLength="15.3" lengthAdjust="spacingAndGlyphs">10</tspan><tspan font-size="11.8" dy="-6.5" dx="1.2" textLength="13.8" lengthAdjust="spacingAndGlyphs">−3</tspan></text>
<text x="270.86" y="276.6" font-size="17" fill="#6e6e6e"><tspan textLength="15.3" lengthAdjust="spacingAndGlyphs">10</tspan><tspan font-size="11.8" dy="-6.5" dx="1.2" textLength="13.8" lengthAdjust="spacingAndGlyphs">−2</tspan></text>
<text x="343.04" y="276.6" font-size="17" fill="#6e6e6e"><tspan textLength="15.3" lengthAdjust="spacingAndGlyphs">10</tspan><tspan font-size="11.8" dy="-6.5" dx="1.2" textLength="13.8" lengthAdjust="spacingAndGlyphs">−1</tspan></text>
<g transform="translate(20.7,219.4) rotate(-90)" fill="#6a6a6a">
<text x="0" y="0" font-size="20" font-style="italic" textLength="11.4" lengthAdjust="spacingAndGlyphs">α</text>
<text x="12.2" y="-8.2" font-size="14" textLength="13.4" lengthAdjust="spacingAndGlyphs">eff</text>
<text x="12.2" y="4.5" font-size="13.6" font-style="italic" textLength="7.6" lengthAdjust="spacingAndGlyphs">ρ</text>
<text x="20" y="6.8" font-size="10" textLength="5.7" lengthAdjust="spacingAndGlyphs">B</text>
</g>
<rect x="69.2" y="307.0" width="339.2" height="100.1" fill="#E5E5E5"/>
<line x1="141.39" x2="141.39" y1="307.0" y2="407.1" stroke="#fff" stroke-width="1"/>
<line x1="213.57" x2="213.57" y1="307.0" y2="407.1" stroke="#fff" stroke-width="1"/>
<line x1="285.76" x2="285.76" y1="307.0" y2="407.1" stroke="#fff" stroke-width="1"/>
<line x1="357.94" x2="357.94" y1="307.0" y2="407.1" stroke="#fff" stroke-width="1"/>
<line x1="69.2" x2="408.4" y1="373.73" y2="373.73" stroke="#fff" stroke-width="1"/>
<line x1="69.2" x2="408.4" y1="340.37" y2="340.37" stroke="#fff" stroke-width="1"/>
<g clip-path="url(#c2)">
<path d="M132.00,296.23 L133.01,298.03 L134.01,299.70 L135.02,301.27 L136.02,302.74 L137.03,304.10 L138.03,305.37 L139.04,306.55 L140.04,307.64 L141.05,308.66 L142.05,309.60 L143.06,310.47 L144.06,311.28 L145.07,312.03 L146.07,312.72 L147.08,313.37 L148.08,313.97 L149.09,314.53 L150.09,315.05 L151.10,315.55 L152.10,316.02 L153.11,316.48 L154.11,316.91 L155.12,317.33 L156.12,317.74 L157.13,318.13 L158.13,318.50 L159.14,318.86 L160.14,319.20 L161.15,319.53 L162.15,319.85 L163.16,320.15 L164.16,320.44 L165.17,320.72 L166.17,320.99 L167.18,321.24 L168.18,321.49 L169.19,321.72 L170.19,321.94 L171.20,322.16 L172.20,322.36 L173.21,322.56 L174.21,322.75 L175.22,322.93 L176.22,323.10 L177.23,323.27 L178.23,323.43 L179.24,323.58 L180.24,323.73 L181.25,323.87 L182.25,324.01 L183.26,324.14 L184.26,324.27 L185.27,324.39 L186.27,324.52 L187.28,324.63 L188.28,324.75 L189.29,324.86 L190.29,324.96 L191.30,325.06 L192.30,325.16 L193.31,325.26 L194.31,325.35 L195.32,325.44 L196.32,325.53 L197.33,325.61 L198.34,325.69 L199.34,325.76 L200.35,325.84 L201.35,325.91 L202.36,325.97 L203.36,326.04 L204.37,326.10 L205.37,326.16 L206.38,326.21 L207.38,326.27 L208.39,326.32 L209.39,326.37 L210.40,326.41 L211.40,326.46 L212.41,326.50 L213.41,326.54 L214.42,326.57 L215.42,326.61 L216.43,326.64 L217.43,326.67 L218.44,326.70 L219.44,326.72 L220.45,326.75 L221.45,326.77 L222.46,326.79 L223.46,326.81 L224.47,326.83 L225.47,326.84 L226.48,326.86 L227.48,326.87 L228.49,326.88 L229.49,326.89 L230.50,326.90 L231.50,326.91 L232.51,326.92 L233.51,326.92 L234.52,326.93 L235.52,326.93 L236.53,326.93 L237.53,326.93 L238.54,326.93 L239.54,326.93 L240.55,326.93 L241.55,326.93 L242.56,326.93 L243.56,326.93 L244.57,326.92 L245.57,326.92 L246.58,326.91 L247.58,326.91 L248.59,326.91 L249.59,326.90 L250.60,326.90 L251.60,326.89 L252.61,326.89 L253.61,326.88 L254.62,326.88 L255.62,326.87 L256.63,326.87 L257.63,326.86 L258.64,326.86 L259.64,326.85 L260.65,326.85 L261.65,326.85 L262.66,326.85 L263.66,326.84 L264.67,326.84 L265.68,326.84 L266.68,326.84 L267.69,326.85 L268.69,326.85 L269.70,326.85 L270.70,326.85 L271.71,326.85 L272.71,326.86 L273.72,326.86 L274.72,326.87 L275.73,326.87 L276.73,326.87 L277.74,326.88 L278.74,326.89 L279.75,326.89 L280.75,326.90 L281.76,326.90 L282.76,326.91 L283.77,326.92 L284.77,326.93 L285.78,326.93 L286.78,326.94 L287.79,326.95 L288.79,326.96 L289.80,326.96 L290.80,326.97 L291.81,326.98 L292.81,326.99 L293.82,327.00 L294.82,327.01 L295.83,327.01 L296.83,327.02 L297.84,327.03 L298.84,327.04 L299.85,327.05 L300.85,327.05 L301.86,327.06 L302.86,327.07 L303.87,327.08 L304.87,327.08 L305.88,327.09 L306.88,327.10 L307.89,327.11 L308.89,327.11 L309.90,327.12 L310.90,327.12 L311.91,327.13 L312.91,327.13 L313.92,327.14 L314.92,327.14 L315.93,327.15 L316.93,327.15 L317.94,327.15 L318.94,327.16 L319.95,327.16 L320.95,327.16 L321.96,327.16 L322.96,327.16 L323.97,327.16 L324.97,327.16 L325.98,327.16 L326.98,327.16 L327.99,327.16 L328.99,327.15 L330.00,327.15 L330.13,327.15 L330.74,327.15 L331.35,327.14 L331.95,327.14 L332.56,327.14 L333.17,327.13 L333.77,327.13 L334.38,327.13 L334.99,327.12 L335.59,327.12 L336.20,327.11 L336.81,327.11 L337.41,327.11 L338.02,327.10 L338.63,327.10 L339.23,327.10 L339.84,327.10 L340.45,327.10 L341.06,327.10 L341.66,327.11 L342.27,327.12 L342.88,327.13 L343.48,327.15 L344.09,327.16 L344.70,327.18 L345.30,327.20 L345.91,327.22 L346.52,327.25 L347.12,327.27 L347.73,327.30 L348.34,327.33 L348.94,327.36 L349.55,327.39 L350.16,327.43 L350.76,327.46 L351.37,327.49 L351.98,327.53 L352.58,327.57 L353.19,327.60 L353.80,327.64 L354.40,327.68 L355.01,327.71 L355.62,327.75 L356.22,327.79 L356.83,327.82 L357.44,327.86 L358.04,327.90 L358.65,327.93 L359.26,327.97 L359.86,328.01 L360.47,328.05 L361.08,328.09 L361.68,328.14 L362.29,328.18 L362.90,328.23 L363.50,328.28 L364.11,328.32 L364.72,328.37 L365.32,328.43 L365.93,328.48 L366.54,328.53 L367.14,328.59 L367.75,328.64 L368.36,328.70 L368.96,328.75 L369.57,328.81 L370.18,328.87 L370.78,328.93 L371.39,328.99 L372.00,329.05 L372.60,329.11 L373.21,329.17 L373.82,329.24 L374.42,329.30 L375.03,329.37 L375.64,329.43 L376.24,329.49 L376.85,329.56 L377.46,329.63 L378.06,329.70 L378.67,329.77 L379.28,329.84 L379.88,329.91 L380.49,329.99 L381.10,330.06 L381.70,330.14 L382.31,330.22 L382.92,330.30 L383.52,330.38 L384.13,330.47 L384.74,330.55 L385.34,330.64 L385.95,330.73 L386.56,330.82 L387.17,330.91 L387.77,331.00 L388.38,331.10 L388.99,331.19 L389.59,331.29 L390.20,331.39 L390.81,331.49 L391.41,331.60 L392.02,331.70 L392.63,331.81 L393.23,331.92 L393.84,332.04 L394.45,332.15 L395.05,332.27 L395.66,332.39 L396.27,332.51 L396.87,332.63 L397.48,332.76 L398.09,332.89 L398.69,333.02 L399.30,333.15 L399.91,333.29 L400.51,333.43 L401.12,333.57 L401.73,333.72 L402.33,333.87 L402.94,334.03 L403.55,334.19 L404.15,334.35 L404.76,334.52 L405.37,334.69 L405.97,334.87 L406.58,335.05 L406.90,335.14 L407.00,335.17 L407.10,335.20 L407.19,335.23 L407.20,335.23 L407.30,335.26 L407.40,335.29 L407.50,335.32 L407.60,335.36 L407.70,335.39 L407.79,335.41 L407.80,335.42 L407.90,335.45 L408.00,335.48 L408.10,335.51 L408.20,335.54 L408.30,335.57 L408.40,335.60" fill="none" stroke="#DC143C" stroke-width="1.4" stroke-linejoin="round"/>
<path d="M76.00,297.31 L77.00,298.53 L78.01,299.74 L79.01,300.91 L80.02,302.07 L81.02,303.20 L82.02,304.31 L83.03,305.39 L84.03,306.45 L85.04,307.50 L86.04,308.52 L87.04,309.51 L88.05,310.49 L89.05,311.45 L90.06,312.39 L91.06,313.31 L92.06,314.21 L93.07,315.09 L94.07,315.95 L95.08,316.80 L96.08,317.63 L97.08,318.45 L98.09,319.24 L99.09,320.02 L100.09,320.79 L101.10,321.54 L102.10,322.28 L103.11,323.00 L104.11,323.71 L105.11,324.41 L106.12,325.10 L107.12,325.77 L108.13,326.43 L109.13,327.07 L110.13,327.71 L111.14,328.33 L112.14,328.94 L113.15,329.54 L114.15,330.13 L115.15,330.71 L116.16,331.27 L117.16,331.83 L118.17,332.37 L119.17,332.90 L120.17,333.42 L121.18,333.93 L122.18,334.43 L123.19,334.92 L124.19,335.40 L125.19,335.87 L126.20,336.33 L127.20,336.78 L128.21,337.23 L129.21,337.66 L130.21,338.08 L131.22,338.49 L132.22,338.89 L133.23,339.29 L134.23,339.67 L135.23,340.05 L136.24,340.42 L137.24,340.77 L138.25,341.12 L139.25,341.46 L140.25,341.79 L141.26,342.11 L142.26,342.42 L143.26,342.73 L144.27,343.02 L145.27,343.30 L146.28,343.58 L147.28,343.84 L148.28,344.10 L149.29,344.34 L150.29,344.58 L151.30,344.81 L152.30,345.02 L153.30,345.23 L154.31,345.43 L155.31,345.62 L156.32,345.80 L157.32,345.98 L158.32,346.14 L159.33,346.30 L160.33,346.45 L161.34,346.59 L162.34,346.73 L163.34,346.86 L164.35,346.98 L165.35,347.10 L166.36,347.21 L167.36,347.32 L168.36,347.42 L169.37,347.52 L170.37,347.61 L171.38,347.70 L172.38,347.78 L173.38,347.86 L174.39,347.94 L175.39,348.02 L176.40,348.09 L177.40,348.16 L178.40,348.23 L179.41,348.29 L180.41,348.35 L181.42,348.41 L182.42,348.47 L183.42,348.53 L184.43,348.58 L185.43,348.63 L186.43,348.67 L187.44,348.72 L188.44,348.76 L189.45,348.80 L190.45,348.84 L191.45,348.88 L192.46,348.91 L193.46,348.94 L194.47,348.97 L195.47,349.00 L196.47,349.02 L197.48,349.04 L198.48,349.07 L199.49,349.08 L200.49,349.10 L201.49,349.12 L202.50,349.13 L203.50,349.14 L204.51,349.15 L205.51,349.16 L206.51,349.16 L207.52,349.17 L208.52,349.17 L209.53,349.17 L210.53,349.17 L211.53,349.17 L212.54,349.16 L213.54,349.16 L214.55,349.15 L215.55,349.14 L216.55,349.13 L217.56,349.12 L218.56,349.11 L219.57,349.09 L220.57,349.08 L221.57,349.06 L222.58,349.04 L223.58,349.03 L224.58,349.00 L225.59,348.98 L226.59,348.96 L227.60,348.94 L228.60,348.91 L229.60,348.89 L230.61,348.86 L231.61,348.83 L232.62,348.80 L233.62,348.77 L234.62,348.74 L235.63,348.71 L236.63,348.68 L237.64,348.65 L238.64,348.61 L239.64,348.58 L240.65,348.54 L241.65,348.51 L242.66,348.47 L243.66,348.43 L244.66,348.40 L245.67,348.36 L246.67,348.32 L247.68,348.28 L248.68,348.24 L249.68,348.20 L250.69,348.16 L251.69,348.12 L252.70,348.08 L253.70,348.04 L254.70,348.00 L255.71,347.96 L256.71,347.92 L257.72,347.87 L258.72,347.83 L259.72,347.79 L260.73,347.75 L261.73,347.71 L262.74,347.66 L263.74,347.62 L264.74,347.58 L265.75,347.54 L266.75,347.50 L267.75,347.46 L268.76,347.42 L269.76,347.37 L270.77,347.33 L271.77,347.29 L272.77,347.25 L273.78,347.21 L274.78,347.17 L275.79,347.14 L276.79,347.10 L277.79,347.06 L278.80,347.02 L279.80,346.99 L280.81,346.95 L281.81,346.91 L282.81,346.88 L283.82,346.85 L284.82,346.81 L285.83,346.78 L286.83,346.75 L287.83,346.72 L288.84,346.69 L289.84,346.66 L290.85,346.63 L291.85,346.60 L292.85,346.58 L293.86,346.55 L294.86,346.53 L295.87,346.50 L296.87,346.48 L297.87,346.46 L298.88,346.44 L299.88,346.42 L300.89,346.40 L301.89,346.39 L302.89,346.37 L303.90,346.36 L304.90,346.35 L305.91,346.34 L306.91,346.33 L307.91,346.32 L308.92,346.31 L309.92,346.31 L310.92,346.31 L311.93,346.30 L312.93,346.30 L313.94,346.31 L314.94,346.31 L315.94,346.31 L316.95,346.32 L317.95,346.33 L318.96,346.34 L319.96,346.35 L320.96,346.37 L321.97,346.38 L322.97,346.40 L323.98,346.42 L324.98,346.44 L325.98,346.47 L326.99,346.49 L327.99,346.52 L329.00,346.55 L330.00,346.58 L330.29,346.59 L330.91,346.62 L331.52,346.64 L332.13,346.67 L332.75,346.69 L333.36,346.72 L333.98,346.75 L334.59,346.78 L335.21,346.82 L335.82,346.85 L336.44,346.88 L337.05,346.92 L337.66,346.95 L338.28,346.99 L338.89,347.03 L339.51,347.07 L340.12,347.11 L340.74,347.15 L341.35,347.18 L341.97,347.22 L342.58,347.27 L343.20,347.31 L343.81,347.37 L344.42,347.43 L345.04,347.51 L345.65,347.60 L346.27,347.73 L346.88,347.89 L347.50,348.07 L348.11,348.28 L348.73,348.50 L349.34,348.75 L349.96,349.02 L350.57,349.30 L351.18,349.60 L351.80,349.90 L352.41,350.24 L353.03,350.64 L353.64,351.10 L354.26,351.64 L354.87,352.27 L355.49,353.05 L356.10,354.11 L356.44,354.84 L356.54,355.08 L356.64,355.32 L356.72,355.50 L356.74,355.58 L356.84,355.85 L356.94,356.13 L357.04,356.45 L357.14,356.82 L357.24,357.25 L357.33,357.65 L357.34,357.73 L357.44,358.27 L357.54,358.89 L357.64,359.69 L357.74,360.65 L357.84,361.73 L357.94,362.90 L357.94,362.90 L358.04,362.07 L358.14,361.28 L358.24,360.54 L358.34,359.84 L358.44,359.21 L358.54,358.63 L358.56,358.52 L358.64,358.10 L358.74,357.60 L358.84,357.13 L358.94,356.70 L359.04,356.31 L359.14,355.97 L359.19,355.84 L359.24,355.68 L359.34,355.41 L359.44,355.14 L359.81,354.28 L360.43,353.05 L361.05,352.09 L361.67,351.30 L362.29,350.60 L362.91,349.96 L363.53,349.38 L364.15,348.86 L364.77,348.39 L365.39,347.98 L366.02,347.61 L366.64,347.28 L367.26,346.99 L367.88,346.72 L368.50,346.48 L369.12,346.25 L369.74,346.04 L370.36,345.84 L370.98,345.64 L371.60,345.45 L372.22,345.26 L372.84,345.05 L373.47,344.84 L374.09,344.61 L374.71,344.39 L375.33,344.18 L375.95,343.98 L376.57,343.81 L377.19,343.67 L377.81,343.57 L378.17,343.53 L378.27,343.52 L378.37,343.51 L378.43,343.51 L378.47,343.51 L378.57,343.50 L378.67,343.50 L378.77,343.50 L378.87,343.51 L378.97,343.55 L379.05,343.61 L379.07,343.62 L379.17,343.72 L379.27,343.83 L379.37,343.95 L379.47,344.07 L379.57,344.19 L379.67,344.30 L379.67,344.30 L379.77,344.17 L379.87,344.03 L379.97,343.89 L380.07,343.75 L380.17,343.62 L380.27,343.49 L380.30,343.46 L380.37,343.37 L380.47,343.27 L380.57,343.18 L380.67,343.11 L380.77,343.06 L380.87,343.01 L380.92,342.99 L380.97,342.96 L381.07,342.91 L381.17,342.87 L381.55,342.70 L382.17,342.46 L382.80,342.27 L383.42,342.10 L384.05,341.95 L384.67,341.83 L385.29,341.71 L385.92,341.59 L386.54,341.47 L387.17,341.35 L387.79,341.23 L388.42,341.11 L389.04,341.00 L389.67,340.89 L390.29,340.79 L390.91,340.70 L391.54,340.62 L392.16,340.54 L392.79,340.47 L393.41,340.41 L394.04,340.37 L394.66,340.32 L395.29,340.27 L395.91,340.23 L396.54,340.19 L397.16,340.16 L397.78,340.13 L398.41,340.11 L399.03,340.10 L399.66,340.10 L400.28,340.12 L400.91,340.16 L401.53,340.22 L402.16,340.28 L402.78,340.35 L403.40,340.43 L404.03,340.50 L404.65,340.59 L405.28,340.71 L405.90,340.84 L406.53,340.98 L406.90,341.08 L407.00,341.11 L407.10,341.13 L407.15,341.15 L407.20,341.16 L407.30,341.19 L407.40,341.21 L407.50,341.24 L407.60,341.27 L407.70,341.30 L407.78,341.32 L407.80,341.33 L407.90,341.35 L408.00,341.38 L408.10,341.41 L408.20,341.44 L408.30,341.47 L408.40,341.50" fill="none" stroke="#FFA500" stroke-width="1.4" stroke-linejoin="round"/>
<path d="M69.20,339.83 L70.21,340.29 L71.21,340.75 L72.22,341.20 L73.23,341.66 L74.23,342.11 L75.24,342.56 L76.25,343.01 L77.26,343.46 L78.26,343.90 L79.27,344.34 L80.28,344.78 L81.28,345.21 L82.29,345.65 L83.30,346.08 L84.30,346.50 L85.31,346.93 L86.32,347.35 L87.33,347.76 L88.33,348.18 L89.34,348.59 L90.35,349.00 L91.35,349.40 L92.36,349.80 L93.37,350.20 L94.37,350.60 L95.38,350.99 L96.39,351.37 L97.39,351.76 L98.40,352.14 L99.41,352.51 L100.42,352.88 L101.42,353.25 L102.43,353.61 L103.44,353.97 L104.44,354.32 L105.45,354.67 L106.46,355.02 L107.46,355.36 L108.47,355.70 L109.48,356.03 L110.48,356.36 L111.49,356.68 L112.50,357.00 L113.51,357.31 L114.51,357.62 L115.52,357.92 L116.53,358.22 L117.53,358.51 L118.54,358.80 L119.55,359.08 L120.55,359.35 L121.56,359.63 L122.57,359.89 L123.58,360.15 L124.58,360.41 L125.59,360.66 L126.60,360.91 L127.60,361.15 L128.61,361.38 L129.62,361.62 L130.62,361.84 L131.63,362.07 L132.64,362.28 L133.64,362.50 L134.65,362.71 L135.66,362.91 L136.67,363.11 L137.67,363.31 L138.68,363.50 L139.69,363.68 L140.69,363.87 L141.70,364.05 L142.71,364.22 L143.71,364.39 L144.72,364.56 L145.73,364.72 L146.74,364.88 L147.74,365.04 L148.75,365.19 L149.76,365.33 L150.76,365.48 L151.77,365.62 L152.78,365.76 L153.78,365.89 L154.79,366.02 L155.80,366.15 L156.80,366.27 L157.81,366.39 L158.82,366.51 L159.83,366.62 L160.83,366.73 L161.84,366.84 L162.85,366.94 L163.85,367.04 L164.86,367.14 L165.87,367.24 L166.87,367.33 L167.88,367.42 L168.89,367.51 L169.89,367.59 L170.90,367.67 L171.91,367.75 L172.92,367.83 L173.92,367.90 L174.93,367.98 L175.94,368.04 L176.94,368.11 L177.95,368.18 L178.96,368.24 L179.96,368.30 L180.97,368.35 L181.98,368.41 L182.99,368.46 L183.99,368.51 L185.00,368.56 L186.01,368.61 L187.01,368.65 L188.02,368.69 L189.03,368.73 L190.03,368.77 L191.04,368.81 L192.05,368.84 L193.05,368.87 L194.06,368.91 L195.07,368.94 L196.08,368.96 L197.08,368.99 L198.09,369.01 L199.10,369.04 L200.10,369.06 L201.11,369.08 L202.12,369.09 L203.12,369.11 L204.13,369.13 L205.14,369.14 L206.15,369.15 L207.15,369.17 L208.16,369.18 L209.17,369.19 L210.17,369.19 L211.18,369.20 L212.19,369.21 L213.19,369.21 L214.20,369.22 L215.21,369.22 L216.21,369.22 L217.22,369.22 L218.23,369.22 L219.24,369.22 L220.24,369.22 L221.25,369.22 L222.26,369.22 L223.26,369.21 L224.27,369.21 L225.28,369.21 L226.28,369.20 L227.29,369.20 L228.30,369.19 L229.31,369.19 L230.31,369.18 L231.32,369.17 L232.33,369.17 L233.33,369.16 L234.34,369.15 L235.35,369.15 L236.35,369.14 L237.36,369.13 L238.37,369.13 L239.37,369.12 L240.38,369.11 L241.39,369.10 L242.40,369.10 L243.40,369.09 L244.41,369.08 L245.42,369.08 L246.42,369.07 L247.43,369.07 L248.44,369.06 L249.44,369.06 L250.45,369.05 L251.46,369.05 L252.46,369.05 L253.47,369.04 L254.48,369.04 L255.49,369.04 L256.49,369.04 L257.50,369.04 L258.51,369.04 L259.51,369.04 L260.52,369.04 L261.53,369.04 L262.53,369.04 L263.54,369.04 L264.55,369.05 L265.56,369.05 L266.56,369.06 L267.57,369.06 L268.58,369.07 L269.58,369.07 L270.59,369.08 L271.60,369.09 L272.60,369.09 L273.61,369.10 L274.62,369.11 L275.62,369.12 L276.63,369.13 L277.64,369.14 L278.65,369.15 L279.65,369.17 L280.66,369.18 L281.67,369.19 L282.67,369.21 L283.68,369.22 L284.69,369.24 L285.69,369.25 L286.70,369.27 L287.71,369.29 L288.72,369.31 L289.72,369.32 L290.73,369.34 L291.74,369.36 L292.74,369.39 L293.75,369.41 L294.76,369.43 L295.76,369.45 L296.77,369.48 L297.78,369.50 L298.78,369.53 L299.79,369.55 L300.80,369.58 L301.81,369.61 L302.81,369.64 L303.82,369.67 L304.83,369.70 L305.83,369.73 L306.84,369.76 L307.85,369.79 L308.85,369.83 L309.86,369.86 L310.87,369.90 L311.87,369.93 L312.88,369.97 L313.89,370.01 L314.90,370.05 L315.90,370.09 L316.91,370.13 L317.92,370.17 L318.92,370.21 L319.93,370.25 L320.94,370.30 L321.94,370.34 L322.95,370.39 L323.96,370.43 L324.97,370.48 L325.97,370.53 L326.98,370.58 L327.99,370.63 L328.99,370.68 L330.00,370.73 L330.29,370.75 L330.91,370.80 L331.52,370.84 L332.13,370.89 L332.75,370.94 L333.36,371.00 L333.98,371.06 L334.59,371.12 L335.21,371.19 L335.82,371.26 L336.44,371.34 L337.05,371.42 L337.66,371.51 L338.28,371.60 L338.89,371.70 L339.51,371.81 L340.12,371.92 L340.74,372.06 L341.35,372.23 L341.97,372.43 L342.58,372.65 L343.20,372.90 L343.81,373.16 L344.42,373.43 L345.04,373.72 L345.65,374.02 L346.27,374.36 L346.88,374.73 L347.50,375.12 L348.11,375.55 L348.73,376.02 L349.34,376.52 L349.96,377.05 L350.57,377.65 L351.18,378.33 L351.80,379.10 L352.41,379.93 L353.03,380.84 L353.64,381.80 L354.26,382.84 L354.87,384.05 L355.49,385.51 L356.10,387.35 L356.44,388.66 L356.54,389.09 L356.64,389.55 L356.72,389.89 L356.74,390.04 L356.84,390.56 L356.94,391.12 L357.04,391.71 L357.14,392.33 L357.24,393.01 L357.33,393.68 L357.34,393.81 L357.44,394.77 L357.54,395.89 L357.64,397.19 L357.74,398.75 L357.84,400.93 L357.94,403.50 L357.94,403.50 L358.04,401.47 L358.14,399.57 L358.24,397.85 L358.34,396.37 L358.44,395.01 L358.54,393.74 L358.56,393.49 L358.64,392.57 L358.74,391.49 L358.84,390.51 L358.94,389.61 L359.04,388.74 L359.14,387.90 L359.19,387.56 L359.24,387.10 L359.34,386.36 L359.44,385.69 L359.81,384.02 L360.43,382.30 L361.05,381.10 L361.67,379.99 L362.29,378.93 L362.91,377.95 L363.53,377.05 L364.15,376.22 L364.77,375.43 L365.39,374.68 L366.02,373.96 L366.64,373.27 L367.26,372.62 L367.88,372.00 L368.50,371.43 L369.12,370.90 L369.74,370.42 L370.36,369.96 L370.98,369.53 L371.60,369.13 L372.22,368.76 L372.84,368.44 L373.47,368.15 L374.09,367.90 L374.71,367.65 L375.33,367.40 L375.95,367.18 L376.57,366.98 L377.19,366.83 L377.81,366.73 L378.17,366.70 L378.27,366.70 L378.37,366.70 L378.43,366.70 L378.47,366.71 L378.57,366.74 L378.67,366.81 L378.77,366.90 L378.87,367.02 L378.97,367.17 L379.05,367.31 L379.07,367.34 L379.17,367.54 L379.27,367.92 L379.37,368.75 L379.47,369.93 L379.57,371.33 L379.67,372.80 L379.67,372.80 L379.77,371.56 L379.87,370.38 L379.97,369.34 L380.07,368.49 L380.17,367.90 L380.27,367.56 L380.31,367.46 L380.37,367.28 L380.47,367.05 L380.57,366.86 L380.67,366.69 L380.77,366.54 L380.87,366.39 L380.95,366.29 L380.97,366.24 L381.07,366.08 L381.17,365.92 L381.58,365.30 L382.22,364.43 L382.85,363.66 L383.49,363.00 L384.12,362.45 L384.76,361.94 L385.39,361.48 L386.03,361.07 L386.67,360.68 L387.30,360.32 L387.94,359.98 L388.57,359.62 L389.21,359.26 L389.84,358.91 L390.48,358.63 L390.89,358.50 L390.99,358.47 L391.09,358.45 L391.11,358.45 L391.19,358.43 L391.29,358.42 L391.39,358.41 L391.49,358.40 L391.59,358.40 L391.69,358.42 L391.75,358.45 L391.79,358.47 L391.89,358.56 L391.99,358.67 L392.09,358.79 L392.19,358.93 L392.29,359.07 L392.39,359.20 L392.39,359.20 L392.49,359.02 L392.59,358.84 L392.69,358.66 L392.79,358.49 L392.89,358.32 L392.99,358.17 L393.03,358.11 L393.09,358.03 L393.19,357.91 L393.29,357.82 L393.39,357.72 L393.49,357.63 L393.59,357.54 L393.67,357.47 L393.69,357.45 L393.79,357.37 L393.89,357.28 L394.31,356.96 L394.95,356.54 L395.59,356.17 L396.23,355.85 L396.87,355.53 L397.51,355.21 L398.15,354.86 L398.79,354.51 L399.43,354.16 L400.07,353.83 L400.71,353.50 L401.35,353.17 L401.99,352.86 L402.63,352.55 L403.28,352.25 L403.92,351.96 L404.56,351.67 L405.20,351.39 L405.84,351.12 L406.48,350.85 L406.90,350.68 L407.00,350.64 L407.10,350.60 L407.12,350.59 L407.20,350.56 L407.30,350.52 L407.40,350.48 L407.50,350.44 L407.60,350.41 L407.70,350.37 L407.76,350.34 L407.80,350.33 L407.90,350.29 L408.00,350.25 L408.10,350.21 L408.20,350.18 L408.30,350.14 L408.40,350.10" fill="none" stroke="#117A65" stroke-width="1.4" stroke-linejoin="round"/>
<path d="M69.20,350.98 L70.21,351.35 L71.21,351.71 L72.22,352.06 L73.23,352.41 L74.23,352.76 L75.24,353.11 L76.25,353.44 L77.26,353.78 L78.26,354.11 L79.27,354.44 L80.28,354.76 L81.28,355.08 L82.29,355.40 L83.30,355.71 L84.30,356.01 L85.31,356.32 L86.32,356.62 L87.33,356.91 L88.33,357.21 L89.34,357.49 L90.35,357.78 L91.35,358.06 L92.36,358.34 L93.37,358.61 L94.37,358.88 L95.38,359.15 L96.39,359.41 L97.39,359.67 L98.40,359.92 L99.41,360.17 L100.42,360.42 L101.42,360.67 L102.43,360.91 L103.44,361.15 L104.44,361.38 L105.45,361.61 L106.46,361.84 L107.46,362.07 L108.47,362.29 L109.48,362.50 L110.48,362.72 L111.49,362.93 L112.50,363.14 L113.51,363.34 L114.51,363.55 L115.52,363.74 L116.53,363.94 L117.53,364.13 L118.54,364.32 L119.55,364.51 L120.55,364.69 L121.56,364.87 L122.57,365.05 L123.58,365.22 L124.58,365.40 L125.59,365.56 L126.60,365.73 L127.60,365.89 L128.61,366.05 L129.62,366.21 L130.62,366.37 L131.63,366.52 L132.64,366.67 L133.64,366.81 L134.65,366.96 L135.66,367.10 L136.67,367.24 L137.67,367.37 L138.68,367.51 L139.69,367.64 L140.69,367.76 L141.70,367.89 L142.71,368.01 L143.71,368.13 L144.72,368.25 L145.73,368.37 L146.74,368.48 L147.74,368.59 L148.75,368.70 L149.76,368.81 L150.76,368.91 L151.77,369.01 L152.78,369.11 L153.78,369.21 L154.79,369.31 L155.80,369.40 L156.80,369.49 L157.81,369.58 L158.82,369.67 L159.83,369.75 L160.83,369.83 L161.84,369.92 L162.85,369.99 L163.85,370.07 L164.86,370.15 L165.87,370.22 L166.87,370.29 L167.88,370.36 L168.89,370.43 L169.89,370.49 L170.90,370.56 L171.91,370.62 L172.92,370.68 L173.92,370.74 L174.93,370.79 L175.94,370.85 L176.94,370.90 L177.95,370.95 L178.96,371.00 L179.96,371.05 L180.97,371.10 L181.98,371.15 L182.99,371.19 L183.99,371.23 L185.00,371.27 L186.01,371.31 L187.01,371.35 L188.02,371.39 L189.03,371.42 L190.03,371.46 L191.04,371.49 L192.05,371.52 L193.05,371.55 L194.06,371.58 L195.07,371.61 L196.08,371.64 L197.08,371.66 L198.09,371.69 L199.10,371.71 L200.10,371.73 L201.11,371.75 L202.12,371.77 L203.12,371.79 L204.13,371.81 L205.14,371.83 L206.15,371.84 L207.15,371.86 L208.16,371.87 L209.17,371.89 L210.17,371.90 L211.18,371.91 L212.19,371.92 L213.19,371.93 L214.20,371.94 L215.21,371.95 L216.21,371.96 L217.22,371.97 L218.23,371.98 L219.24,371.98 L220.24,371.99 L221.25,371.99 L222.26,372.00 L223.26,372.00 L224.27,372.00 L225.28,372.01 L226.28,372.01 L227.29,372.01 L228.30,372.01 L229.31,372.02 L230.31,372.02 L231.32,372.02 L232.33,372.02 L233.33,372.02 L234.34,372.02 L235.35,372.02 L236.35,372.02 L237.36,372.02 L238.37,372.01 L239.37,372.01 L240.38,372.01 L241.39,372.01 L242.40,372.01 L243.40,372.01 L244.41,372.01 L245.42,372.01 L246.42,372.00 L247.43,372.00 L248.44,372.00 L249.44,372.00 L250.45,372.00 L251.46,372.00 L252.46,372.00 L253.47,372.00 L254.48,372.00 L255.49,372.00 L256.49,372.00 L257.50,372.00 L258.51,372.00 L259.51,372.00 L260.52,372.00 L261.53,372.01 L262.53,372.01 L263.54,372.01 L264.55,372.01 L265.56,372.02 L266.56,372.02 L267.57,372.03 L268.58,372.03 L269.58,372.04 L270.59,372.05 L271.60,372.05 L272.60,372.06 L273.61,372.07 L274.62,372.08 L275.62,372.09 L276.63,372.10 L277.64,372.11 L278.65,372.13 L279.65,372.14 L280.66,372.16 L281.67,372.17 L282.67,372.19 L283.68,372.20 L284.69,372.22 L285.69,372.24 L286.70,372.26 L287.71,372.28 L288.72,372.31 L289.72,372.33 L290.73,372.35 L291.74,372.38 L292.74,372.41 L293.75,372.43 L294.76,372.46 L295.76,372.49 L296.77,372.52 L297.78,372.56 L298.78,372.59 L299.79,372.63 L300.80,372.66 L301.81,372.70 L302.81,372.74 L303.82,372.78 L304.83,372.83 L305.83,372.87 L306.84,372.92 L307.85,372.96 L308.85,373.01 L309.86,373.06 L310.87,373.11 L311.87,373.17 L312.88,373.22 L313.89,373.28 L314.90,373.34 L315.90,373.40 L316.91,373.46 L317.92,373.52 L318.92,373.59 L319.93,373.66 L320.94,373.72 L321.94,373.80 L322.95,373.87 L323.96,373.94 L324.97,374.02 L325.97,374.10 L326.98,374.18 L327.99,374.26 L328.99,374.35 L330.00,374.43 L330.29,374.47 L330.91,374.54 L331.52,374.62 L332.13,374.70 L332.75,374.79 L333.36,374.89 L333.98,374.99 L334.59,375.10 L335.21,375.20 L335.82,375.31 L336.44,375.43 L337.05,375.54 L337.66,375.66 L338.28,375.77 L338.89,375.89 L339.51,376.00 L340.12,376.12 L340.74,376.24 L341.35,376.36 L341.97,376.49 L342.58,376.63 L343.20,376.79 L343.81,376.95 L344.42,377.12 L345.04,377.31 L345.65,377.52 L346.27,377.76 L346.88,378.03 L347.50,378.33 L348.11,378.65 L348.73,379.01 L349.34,379.41 L349.96,379.84 L350.57,380.35 L351.18,380.95 L351.80,381.65 L352.41,382.45 L353.03,383.33 L353.64,384.33 L354.26,385.51 L354.87,386.95 L355.49,388.70 L356.10,391.02 L356.44,392.78 L356.54,393.35 L356.64,393.95 L356.72,394.38 L356.74,394.56 L356.84,395.20 L356.94,395.85 L357.04,396.52 L357.14,397.21 L357.24,397.91 L357.33,398.51 L357.34,398.62 L357.44,399.38 L357.54,400.27 L357.64,401.32 L357.74,402.65 L357.84,404.64 L357.94,407.00 L357.94,407.00 L358.04,405.15 L358.14,403.42 L358.24,401.82 L358.34,400.38 L358.44,399.01 L358.54,397.73 L358.56,397.47 L358.64,396.55 L358.74,395.51 L358.84,394.62 L358.94,393.82 L359.04,393.08 L359.14,392.41 L359.19,392.15 L359.24,391.80 L359.34,391.27 L359.44,390.80 L359.81,389.26 L360.43,387.05 L361.05,385.35 L361.67,384.10 L362.29,383.10 L362.91,382.25 L363.53,381.53 L364.15,380.90 L364.77,380.32 L365.39,379.78 L366.02,379.28 L366.64,378.80 L367.26,378.37 L367.88,377.97 L368.50,377.60 L369.12,377.28 L369.74,376.99 L370.36,376.72 L370.98,376.46 L371.60,376.22 L372.22,376.01 L372.84,375.84 L373.47,375.72 L374.09,375.64 L374.71,375.56 L375.33,375.49 L375.95,375.44 L376.57,375.41 L377.19,375.40 L377.81,375.69 L378.17,376.04 L378.27,376.15 L378.37,376.28 L378.43,376.36 L378.47,376.42 L378.57,376.56 L378.67,376.73 L378.77,376.98 L378.87,377.32 L378.97,377.76 L379.05,378.19 L379.07,378.31 L379.17,378.98 L379.27,379.77 L379.37,381.11 L379.47,383.74 L379.57,387.20 L379.67,391.00 L379.67,391.00 L379.77,388.06 L379.87,385.22 L379.97,382.84 L380.07,381.24 L380.17,380.44 L380.27,379.77 L380.31,379.56 L380.37,379.19 L380.47,378.69 L380.57,378.25 L380.67,377.87 L380.77,377.54 L380.87,377.24 L380.95,377.05 L380.97,376.97 L381.07,376.71 L381.17,376.46 L381.58,375.51 L382.22,374.30 L382.85,373.34 L383.49,372.53 L384.12,371.81 L384.76,371.18 L385.39,370.61 L386.03,370.09 L386.67,369.59 L387.30,369.09 L387.94,368.57 L388.57,367.95 L389.21,367.25 L389.84,366.60 L390.48,366.08 L390.89,365.88 L390.99,365.84 L391.09,365.82 L391.11,365.82 L391.19,365.81 L391.29,365.80 L391.39,365.81 L391.49,365.86 L391.59,365.95 L391.69,366.06 L391.75,366.15 L391.79,366.20 L391.89,366.37 L391.99,366.72 L392.09,367.45 L392.19,368.47 L392.29,369.69 L392.39,371.00 L392.39,371.00 L392.49,369.69 L392.59,368.45 L392.69,367.38 L392.79,366.55 L392.89,366.04 L392.99,365.80 L393.03,365.72 L393.09,365.61 L393.19,365.45 L393.29,365.33 L393.39,365.22 L393.49,365.12 L393.59,365.02 L393.67,364.93 L393.69,364.90 L393.79,364.79 L393.89,364.69 L394.31,364.25 L394.95,363.65 L395.59,363.11 L396.23,362.61 L396.87,362.13 L397.51,361.68 L398.15,361.22 L398.79,360.79 L399.43,360.37 L400.07,359.97 L400.71,359.58 L401.35,359.20 L401.99,358.83 L402.63,358.46 L403.28,358.09 L403.92,357.72 L404.56,357.34 L405.20,356.98 L405.84,356.61 L406.48,356.25 L406.90,356.02 L407.00,355.96 L407.10,355.91 L407.12,355.90 L407.20,355.85 L407.30,355.80 L407.40,355.74 L407.50,355.69 L407.60,355.63 L407.70,355.58 L407.76,355.55 L407.80,355.53 L407.90,355.47 L408.00,355.42 L408.10,355.36 L408.20,355.31 L408.30,355.25 L408.40,355.20" fill="none" stroke="#48C9B0" stroke-width="1.4" stroke-linejoin="round"/>
</g>
<rect x="69.2" y="307.0" width="339.2" height="100.1" fill="none" stroke="#fff" stroke-width="1"/>
<line x1="64.6" x2="69.2" y1="407.1" y2="407.1" stroke="#555555" stroke-width="1"/>
<line x1="408.4" x2="413" y1="407.1" y2="407.1" stroke="#555555" stroke-width="1"/>
<line x1="64.6" x2="69.2" y1="373.73" y2="373.73" stroke="#555555" stroke-width="1"/>
<line x1="408.4" x2="413" y1="373.73" y2="373.73" stroke="#555555" stroke-width="1"/>
<line x1="64.6" x2="69.2" y1="340.37" y2="340.37" stroke="#555555" stroke-width="1"/>
<line x1="408.4" x2="413" y1="340.37" y2="340.37" stroke="#555555" stroke-width="1"/>
<line x1="64.6" x2="69.2" y1="307" y2="307" stroke="#555555" stroke-width="1"/>
<line x1="408.4" x2="413" y1="307" y2="307" stroke="#555555" stroke-width="1"/>
<line x1="69.2" x2="69.2" y1="407.1" y2="411.7" stroke="#555555" stroke-width="1"/>
<line x1="69.2" x2="69.2" y1="302.4" y2="307.0" stroke="#555555" stroke-width="1"/>
<line x1="141.39" x2="141.39" y1="407.1" y2="411.7" stroke="#555555" stroke-width="1"/>
<line x1="141.39" x2="141.39" y1="302.4" y2="307.0" stroke="#555555" stroke-width="1"/>
<line x1="213.57" x2="213.57" y1="407.1" y2="411.7" stroke="#555555" stroke-width="1"/>
<line x1="213.57" x2="213.57" y1="302.4" y2="307.0" stroke="#555555" stroke-width="1"/>
<line x1="285.76" x2="285.76" y1="407.1" y2="411.7" stroke="#555555" stroke-width="1"/>
<line x1="285.76" x2="285.76" y1="302.4" y2="307.0" stroke="#555555" stroke-width="1"/>
<line x1="357.94" x2="357.94" y1="407.1" y2="411.7" stroke="#555555" stroke-width="1"/>
<line x1="357.94" x2="357.94" y1="302.4" y2="307.0" stroke="#555555" stroke-width="1"/>
<line x1="90.93" x2="90.93" y1="407.1" y2="409.1" stroke="#555555" stroke-width="0.7"/>
<line x1="90.93" x2="90.93" y1="305" y2="307.0" stroke="#555555" stroke-width="0.7"/>
<line x1="103.64" x2="103.64" y1="407.1" y2="409.1" stroke="#555555" stroke-width="0.7"/>
<line x1="103.64" x2="103.64" y1="305" y2="307.0" stroke="#555555" stroke-width="0.7"/>
<line x1="112.66" x2="112.66" y1="407.1" y2="409.1" stroke="#555555" stroke-width="0.7"/>
<line x1="112.66" x2="112.66" y1="305" y2="307.0" stroke="#555555" stroke-width="0.7"/>
<line x1="119.66" x2="119.66" y1="407.1" y2="409.1" stroke="#555555" stroke-width="0.7"/>
<line x1="119.66" x2="119.66" y1="305" y2="307.0" stroke="#555555" stroke-width="0.7"/>
<line x1="125.37" x2="125.37" y1="407.1" y2="409.1" stroke="#555555" stroke-width="0.7"/>
<line x1="125.37" x2="125.37" y1="305" y2="307.0" stroke="#555555" stroke-width="0.7"/>
<line x1="130.2" x2="130.2" y1="407.1" y2="409.1" stroke="#555555" stroke-width="0.7"/>
<line x1="130.2" x2="130.2" y1="305" y2="307.0" stroke="#555555" stroke-width="0.7"/>
<line x1="134.39" x2="134.39" y1="407.1" y2="409.1" stroke="#555555" stroke-width="0.7"/>
<line x1="134.39" x2="134.39" y1="305" y2="307.0" stroke="#555555" stroke-width="0.7"/>
<line x1="138.08" x2="138.08" y1="407.1" y2="409.1" stroke="#555555" stroke-width="0.7"/>
<line x1="138.08" x2="138.08" y1="305" y2="307.0" stroke="#555555" stroke-width="0.7"/>
<line x1="163.12" x2="163.12" y1="407.1" y2="409.1" stroke="#555555" stroke-width="0.7"/>
<line x1="163.12" x2="163.12" y1="305" y2="307.0" stroke="#555555" stroke-width="0.7"/>
<line x1="175.83" x2="175.83" y1="407.1" y2="409.1" stroke="#555555" stroke-width="0.7"/>
<line x1="175.83" x2="175.83" y1="305" y2="307.0" stroke="#555555" stroke-width="0.7"/>
<line x1="184.85" x2="184.85" y1="407.1" y2="409.1" stroke="#555555" stroke-width="0.7"/>
<line x1="184.85" x2="184.85" y1="305" y2="307.0" stroke="#555555" stroke-width="0.7"/>
<line x1="191.84" x2="191.84" y1="407.1" y2="409.1" stroke="#555555" stroke-width="0.7"/>
<line x1="191.84" x2="191.84" y1="305" y2="307.0" stroke="#555555" stroke-width="0.7"/>
<line x1="197.56" x2="197.56" y1="407.1" y2="409.1" stroke="#555555" stroke-width="0.7"/>
<line x1="197.56" x2="197.56" y1="305" y2="307.0" stroke="#555555" stroke-width="0.7"/>
<line x1="202.39" x2="202.39" y1="407.1" y2="409.1" stroke="#555555" stroke-width="0.7"/>
<line x1="202.39" x2="202.39" y1="305" y2="307.0" stroke="#555555" stroke-width="0.7"/>
<line x1="206.58" x2="206.58" y1="407.1" y2="409.1" stroke="#555555" stroke-width="0.7"/>
<line x1="206.58" x2="206.58" y1="305" y2="307.0" stroke="#555555" stroke-width="0.7"/>
<line x1="210.27" x2="210.27" y1="407.1" y2="409.1" stroke="#555555" stroke-width="0.7"/>
<line x1="210.27" x2="210.27" y1="305" y2="307.0" stroke="#555555" stroke-width="0.7"/>
<line x1="235.3" x2="235.3" y1="407.1" y2="409.1" stroke="#555555" stroke-width="0.7"/>
<line x1="235.3" x2="235.3" y1="305" y2="307.0" stroke="#555555" stroke-width="0.7"/>
<line x1="248.01" x2="248.01" y1="407.1" y2="409.1" stroke="#555555" stroke-width="0.7"/>
<line x1="248.01" x2="248.01" y1="305" y2="307.0" stroke="#555555" stroke-width="0.7"/>
<line x1="257.03" x2="257.03" y1="407.1" y2="409.1" stroke="#555555" stroke-width="0.7"/>
<line x1="257.03" x2="257.03" y1="305" y2="307.0" stroke="#555555" stroke-width="0.7"/>
<line x1="264.03" x2="264.03" y1="407.1" y2="409.1" stroke="#555555" stroke-width="0.7"/>
<line x1="264.03" x2="264.03" y1="305" y2="307.0" stroke="#555555" stroke-width="0.7"/>
<line x1="269.74" x2="269.74" y1="407.1" y2="409.1" stroke="#555555" stroke-width="0.7"/>
<line x1="269.74" x2="269.74" y1="305" y2="307.0" stroke="#555555" stroke-width="0.7"/>
<line x1="274.58" x2="274.58" y1="407.1" y2="409.1" stroke="#555555" stroke-width="0.7"/>
<line x1="274.58" x2="274.58" y1="305" y2="307.0" stroke="#555555" stroke-width="0.7"/>
<line x1="278.76" x2="278.76" y1="407.1" y2="409.1" stroke="#555555" stroke-width="0.7"/>
<line x1="278.76" x2="278.76" y1="305" y2="307.0" stroke="#555555" stroke-width="0.7"/>
<line x1="282.46" x2="282.46" y1="407.1" y2="409.1" stroke="#555555" stroke-width="0.7"/>
<line x1="282.46" x2="282.46" y1="305" y2="307.0" stroke="#555555" stroke-width="0.7"/>
<line x1="307.49" x2="307.49" y1="407.1" y2="409.1" stroke="#555555" stroke-width="0.7"/>
<line x1="307.49" x2="307.49" y1="305" y2="307.0" stroke="#555555" stroke-width="0.7"/>
<line x1="320.2" x2="320.2" y1="407.1" y2="409.1" stroke="#555555" stroke-width="0.7"/>
<line x1="320.2" x2="320.2" y1="305" y2="307.0" stroke="#555555" stroke-width="0.7"/>
<line x1="329.22" x2="329.22" y1="407.1" y2="409.1" stroke="#555555" stroke-width="0.7"/>
<line x1="329.22" x2="329.22" y1="305" y2="307.0" stroke="#555555" stroke-width="0.7"/>
<line x1="336.21" x2="336.21" y1="407.1" y2="409.1" stroke="#555555" stroke-width="0.7"/>
<line x1="336.21" x2="336.21" y1="305" y2="307.0" stroke="#555555" stroke-width="0.7"/>
<line x1="341.93" x2="341.93" y1="407.1" y2="409.1" stroke="#555555" stroke-width="0.7"/>
<line x1="341.93" x2="341.93" y1="305" y2="307.0" stroke="#555555" stroke-width="0.7"/>
<line x1="346.76" x2="346.76" y1="407.1" y2="409.1" stroke="#555555" stroke-width="0.7"/>
<line x1="346.76" x2="346.76" y1="305" y2="307.0" stroke="#555555" stroke-width="0.7"/>
<line x1="350.95" x2="350.95" y1="407.1" y2="409.1" stroke="#555555" stroke-width="0.7"/>
<line x1="350.95" x2="350.95" y1="305" y2="307.0" stroke="#555555" stroke-width="0.7"/>
<line x1="354.64" x2="354.64" y1="407.1" y2="409.1" stroke="#555555" stroke-width="0.7"/>
<line x1="354.64" x2="354.64" y1="305" y2="307.0" stroke="#555555" stroke-width="0.7"/>
<line x1="379.67" x2="379.67" y1="407.1" y2="409.1" stroke="#555555" stroke-width="0.7"/>
<line x1="379.67" x2="379.67" y1="305" y2="307.0" stroke="#555555" stroke-width="0.7"/>
<line x1="392.39" x2="392.39" y1="407.1" y2="409.1" stroke="#555555" stroke-width="0.7"/>
<line x1="392.39" x2="392.39" y1="305" y2="307.0" stroke="#555555" stroke-width="0.7"/>
<line x1="401.4" x2="401.4" y1="407.1" y2="409.1" stroke="#555555" stroke-width="0.7"/>
<line x1="401.4" x2="401.4" y1="305" y2="307.0" stroke="#555555" stroke-width="0.7"/>
<text x="62.6" y="412" font-size="17" text-anchor="end" fill="#6e6e6e" textLength="28.2" lengthAdjust="spacingAndGlyphs">0.20</text>
<text x="62.6" y="378.63" font-size="17" text-anchor="end" fill="#6e6e6e" textLength="28.2" lengthAdjust="spacingAndGlyphs">0.24</text>
<text x="62.6" y="345.27" font-size="17" text-anchor="end" fill="#6e6e6e" textLength="28.2" lengthAdjust="spacingAndGlyphs">0.28</text>
<text x="62.6" y="311.9" font-size="17" text-anchor="end" fill="#6e6e6e" textLength="28.2" lengthAdjust="spacingAndGlyphs">0.32</text>
<text x="54.3" y="426.7" font-size="17" fill="#6e6e6e"><tspan textLength="15.3" lengthAdjust="spacingAndGlyphs">10</tspan><tspan font-size="11.8" dy="-6.5" dx="1.2" textLength="13.8" lengthAdjust="spacingAndGlyphs">−5</tspan></text>
<text x="126.49" y="426.7" font-size="17" fill="#6e6e6e"><tspan textLength="15.3" lengthAdjust="spacingAndGlyphs">10</tspan><tspan font-size="11.8" dy="-6.5" dx="1.2" textLength="13.8" lengthAdjust="spacingAndGlyphs">−4</tspan></text>
<text x="198.67" y="426.7" font-size="17" fill="#6e6e6e"><tspan textLength="15.3" lengthAdjust="spacingAndGlyphs">10</tspan><tspan font-size="11.8" dy="-6.5" dx="1.2" textLength="13.8" lengthAdjust="spacingAndGlyphs">−3</tspan></text>
<text x="270.86" y="426.7" font-size="17" fill="#6e6e6e"><tspan textLength="15.3" lengthAdjust="spacingAndGlyphs">10</tspan><tspan font-size="11.8" dy="-6.5" dx="1.2" textLength="13.8" lengthAdjust="spacingAndGlyphs">−2</tspan></text>
<text x="343.04" y="426.7" font-size="17" fill="#6e6e6e"><tspan textLength="15.3" lengthAdjust="spacingAndGlyphs">10</tspan><tspan font-size="11.8" dy="-6.5" dx="1.2" textLength="13.8" lengthAdjust="spacingAndGlyphs">−1</tspan></text>
<text x="238.9" y="445.2" font-size="20" font-style="italic" text-anchor="middle" fill="#6a6a6a">ω</text>
<g transform="translate(22.0,384.5) rotate(-90)" fill="#6a6a6a">
<text x="0" y="0" font-size="20" font-style="italic" textLength="10.3" lengthAdjust="spacingAndGlyphs">ρ</text>
<text x="11.2" y="4.2" font-size="13.6" textLength="8.1" lengthAdjust="spacingAndGlyphs">B</text>
<text x="20.9" y="5" font-size="23" textLength="9.3" lengthAdjust="spacingAndGlyphs">/</text>
<text x="30.9" y="0" font-size="20" font-style="italic" textLength="10.1" lengthAdjust="spacingAndGlyphs">ρ</text>
<text x="41.7" y="5.7" font-size="13.6" textLength="7.9" lengthAdjust="spacingAndGlyphs">B</text>
<text x="41.7" y="-9.1" font-size="14" textLength="13.5" lengthAdjust="spacingAndGlyphs">ref</text>
</g>
</svg>
</body></html>
